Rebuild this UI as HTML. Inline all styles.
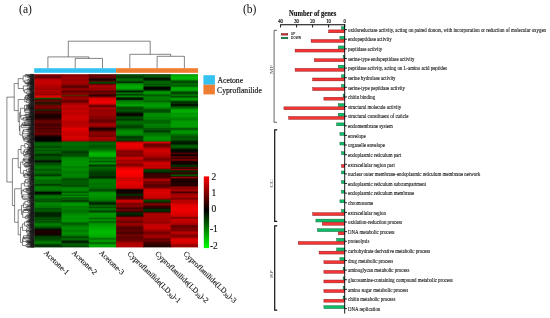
<!DOCTYPE html>
<html><head><meta charset="utf-8"><title>Figure</title>
<style>html,body{margin:0;padding:0;background:#fff}svg{display:block}</style>
</head><body>
<svg width="550" height="318" viewBox="0 0 550 318" font-family="'Liberation Serif', serif">
<defs><linearGradient id="g1" x1="0" y1="0" x2="0" y2="1"><stop offset="0.0017" stop-color="#8a0000"/><stop offset="0.0104" stop-color="#700000"/><stop offset="0.0191" stop-color="#600000"/><stop offset="0.0277" stop-color="#b00000"/><stop offset="0.0364" stop-color="#c00000"/><stop offset="0.0479" stop-color="#c80000"/><stop offset="0.0566" stop-color="#c00000"/><stop offset="0.0681" stop-color="#b00000"/><stop offset="0.0797" stop-color="#a80000"/><stop offset="0.0889" stop-color="#a00000"/><stop offset="0.0970" stop-color="#b80000"/><stop offset="0.1062" stop-color="#a00000"/><stop offset="0.1120" stop-color="#b00000"/><stop offset="0.1178" stop-color="#900000"/><stop offset="0.1253" stop-color="#e00000"/><stop offset="0.1322" stop-color="#f00000"/><stop offset="0.1380" stop-color="#205000"/><stop offset="0.1426" stop-color="#004800"/><stop offset="0.1484" stop-color="#500000"/><stop offset="0.1553" stop-color="#800000"/><stop offset="0.1611" stop-color="#202000"/><stop offset="0.1669" stop-color="#300000"/><stop offset="0.1721" stop-color="#302000"/><stop offset="0.1790" stop-color="#600000"/><stop offset="0.1894" stop-color="#800000"/><stop offset="0.1998" stop-color="#600000"/><stop offset="0.2079" stop-color="#103000"/><stop offset="0.2136" stop-color="#400000"/><stop offset="0.2211" stop-color="#500000"/><stop offset="0.2298" stop-color="#280000"/><stop offset="0.2413" stop-color="#180000"/><stop offset="0.2529" stop-color="#200000"/><stop offset="0.2644" stop-color="#500000"/><stop offset="0.2737" stop-color="#700000"/><stop offset="0.2823" stop-color="#600000"/><stop offset="0.2910" stop-color="#400000"/><stop offset="0.2997" stop-color="#500000"/><stop offset="0.3083" stop-color="#600000"/><stop offset="0.3170" stop-color="#400000"/><stop offset="0.3239" stop-color="#700000"/><stop offset="0.3314" stop-color="#500000"/><stop offset="0.3401" stop-color="#700000"/><stop offset="0.3493" stop-color="#600000"/><stop offset="0.3528" stop-color="#400000"/><stop offset="0.3580" stop-color="#200000"/><stop offset="0.3655" stop-color="#080000"/><stop offset="0.3770" stop-color="#050000"/><stop offset="0.3857" stop-color="#040400"/><stop offset="0.3903" stop-color="#003000"/><stop offset="0.3961" stop-color="#006000"/><stop offset="0.4059" stop-color="#006800"/><stop offset="0.4145" stop-color="#005800"/><stop offset="0.4203" stop-color="#004000"/><stop offset="0.4261" stop-color="#006000"/><stop offset="0.4353" stop-color="#006800"/><stop offset="0.4411" stop-color="#004800"/><stop offset="0.4469" stop-color="#006800"/><stop offset="0.4555" stop-color="#006000"/><stop offset="0.4625" stop-color="#003800"/><stop offset="0.4682" stop-color="#002800"/><stop offset="0.4740" stop-color="#005800"/><stop offset="0.4815" stop-color="#005000"/><stop offset="0.4890" stop-color="#005800"/><stop offset="0.4960" stop-color="#004000"/><stop offset="0.5006" stop-color="#001000"/><stop offset="0.5052" stop-color="#000800"/><stop offset="0.5104" stop-color="#004000"/><stop offset="0.5191" stop-color="#005000"/><stop offset="0.5266" stop-color="#006000"/><stop offset="0.5312" stop-color="#007000"/><stop offset="0.5387" stop-color="#007800"/><stop offset="0.5473" stop-color="#006800"/><stop offset="0.5543" stop-color="#005000"/><stop offset="0.5618" stop-color="#007000"/><stop offset="0.5704" stop-color="#006800"/><stop offset="0.5774" stop-color="#005000"/><stop offset="0.5831" stop-color="#003000"/><stop offset="0.5889" stop-color="#006000"/><stop offset="0.5970" stop-color="#008800"/><stop offset="0.6057" stop-color="#008000"/><stop offset="0.6143" stop-color="#006000"/><stop offset="0.6230" stop-color="#007000"/><stop offset="0.6316" stop-color="#006000"/><stop offset="0.6391" stop-color="#003000"/><stop offset="0.6449" stop-color="#006000"/><stop offset="0.6518" stop-color="#008000"/><stop offset="0.6605" stop-color="#007800"/><stop offset="0.6692" stop-color="#008000"/><stop offset="0.6761" stop-color="#005000"/><stop offset="0.6819" stop-color="#001000"/><stop offset="0.6876" stop-color="#000800"/><stop offset="0.6934" stop-color="#003000"/><stop offset="0.7009" stop-color="#006800"/><stop offset="0.7067" stop-color="#007800"/><stop offset="0.7102" stop-color="#007800"/><stop offset="0.7159" stop-color="#007000"/><stop offset="0.7217" stop-color="#005000"/><stop offset="0.7275" stop-color="#006000"/><stop offset="0.7333" stop-color="#004000"/><stop offset="0.7390" stop-color="#007000"/><stop offset="0.7465" stop-color="#008800"/><stop offset="0.7552" stop-color="#008000"/><stop offset="0.7644" stop-color="#007800"/><stop offset="0.7719" stop-color="#007000"/><stop offset="0.7777" stop-color="#004000"/><stop offset="0.7835" stop-color="#006000"/><stop offset="0.7904" stop-color="#005800"/><stop offset="0.7973" stop-color="#003800"/><stop offset="0.8031" stop-color="#002000"/><stop offset="0.8106" stop-color="#002800"/><stop offset="0.8181" stop-color="#002000"/><stop offset="0.8251" stop-color="#003800"/><stop offset="0.8320" stop-color="#005800"/><stop offset="0.8395" stop-color="#004000"/><stop offset="0.8453" stop-color="#006000"/><stop offset="0.8510" stop-color="#005000"/><stop offset="0.8545" stop-color="#005000"/><stop offset="0.8603" stop-color="#007000"/><stop offset="0.8678" stop-color="#008000"/><stop offset="0.8753" stop-color="#007000"/><stop offset="0.8822" stop-color="#006000"/><stop offset="0.8880" stop-color="#003800"/><stop offset="0.8949" stop-color="#001800"/><stop offset="0.9024" stop-color="#180000"/><stop offset="0.9111" stop-color="#200000"/><stop offset="0.9203" stop-color="#180000"/><stop offset="0.9278" stop-color="#100800"/><stop offset="0.9336" stop-color="#002800"/><stop offset="0.9405" stop-color="#004800"/><stop offset="0.9475" stop-color="#004000"/><stop offset="0.9550" stop-color="#005000"/><stop offset="0.9625" stop-color="#006000"/><stop offset="0.9694" stop-color="#008000"/><stop offset="0.9763" stop-color="#007800"/><stop offset="0.9821" stop-color="#004800"/><stop offset="0.9879" stop-color="#003000"/><stop offset="0.9936" stop-color="#003800"/><stop offset="0.9994" stop-color="#002800"/></linearGradient><linearGradient id="g2" x1="0" y1="0" x2="0" y2="1"><stop offset="0.0017" stop-color="#900000"/><stop offset="0.0104" stop-color="#800000"/><stop offset="0.0191" stop-color="#a00000"/><stop offset="0.0277" stop-color="#980000"/><stop offset="0.0393" stop-color="#a00000"/><stop offset="0.0508" stop-color="#a00000"/><stop offset="0.0600" stop-color="#900000"/><stop offset="0.0676" stop-color="#600000"/><stop offset="0.0745" stop-color="#500000"/><stop offset="0.0803" stop-color="#800000"/><stop offset="0.0872" stop-color="#a00000"/><stop offset="0.0947" stop-color="#700000"/><stop offset="0.1033" stop-color="#600000"/><stop offset="0.1120" stop-color="#900000"/><stop offset="0.1178" stop-color="#800000"/><stop offset="0.1236" stop-color="#4a3000"/><stop offset="0.1293" stop-color="#800000"/><stop offset="0.1380" stop-color="#a00000"/><stop offset="0.1449" stop-color="#900000"/><stop offset="0.1524" stop-color="#700000"/><stop offset="0.1611" stop-color="#600000"/><stop offset="0.1669" stop-color="#a00000"/><stop offset="0.1732" stop-color="#a80000"/><stop offset="0.1807" stop-color="#c00000"/><stop offset="0.1894" stop-color="#c80000"/><stop offset="0.1980" stop-color="#b80000"/><stop offset="0.2067" stop-color="#c00000"/><stop offset="0.2182" stop-color="#c80000"/><stop offset="0.2269" stop-color="#b80000"/><stop offset="0.2361" stop-color="#c80000"/><stop offset="0.2477" stop-color="#d00000"/><stop offset="0.2592" stop-color="#d00000"/><stop offset="0.2708" stop-color="#c00000"/><stop offset="0.2794" stop-color="#b00000"/><stop offset="0.2881" stop-color="#c00000"/><stop offset="0.2968" stop-color="#b80000"/><stop offset="0.3054" stop-color="#c80000"/><stop offset="0.3141" stop-color="#e80000"/><stop offset="0.3227" stop-color="#e00000"/><stop offset="0.3314" stop-color="#d00000"/><stop offset="0.3401" stop-color="#c80000"/><stop offset="0.3493" stop-color="#d00000"/><stop offset="0.3539" stop-color="#c80000"/><stop offset="0.3597" stop-color="#d80000"/><stop offset="0.3684" stop-color="#d00000"/><stop offset="0.3770" stop-color="#c80000"/><stop offset="0.3845" stop-color="#b00000"/><stop offset="0.3891" stop-color="#404000"/><stop offset="0.3943" stop-color="#006800"/><stop offset="0.4030" stop-color="#007000"/><stop offset="0.4145" stop-color="#006800"/><stop offset="0.4261" stop-color="#006000"/><stop offset="0.4353" stop-color="#006800"/><stop offset="0.4428" stop-color="#005000"/><stop offset="0.4498" stop-color="#003800"/><stop offset="0.4567" stop-color="#004000"/><stop offset="0.4642" stop-color="#005800"/><stop offset="0.4717" stop-color="#004800"/><stop offset="0.4786" stop-color="#007800"/><stop offset="0.4873" stop-color="#009000"/><stop offset="0.4960" stop-color="#008800"/><stop offset="0.5029" stop-color="#009800"/><stop offset="0.5104" stop-color="#009000"/><stop offset="0.5191" stop-color="#009800"/><stop offset="0.5266" stop-color="#009000"/><stop offset="0.5312" stop-color="#008800"/><stop offset="0.5387" stop-color="#008000"/><stop offset="0.5473" stop-color="#009000"/><stop offset="0.5560" stop-color="#008800"/><stop offset="0.5647" stop-color="#007800"/><stop offset="0.5733" stop-color="#008000"/><stop offset="0.5820" stop-color="#008800"/><stop offset="0.5912" stop-color="#008000"/><stop offset="0.5999" stop-color="#007000"/><stop offset="0.6057" stop-color="#004800"/><stop offset="0.6114" stop-color="#005000"/><stop offset="0.6201" stop-color="#006000"/><stop offset="0.6288" stop-color="#005800"/><stop offset="0.6374" stop-color="#006000"/><stop offset="0.6438" stop-color="#004000"/><stop offset="0.6490" stop-color="#006000"/><stop offset="0.6565" stop-color="#008000"/><stop offset="0.6663" stop-color="#008800"/><stop offset="0.6749" stop-color="#007800"/><stop offset="0.6819" stop-color="#005000"/><stop offset="0.6865" stop-color="#008000"/><stop offset="0.6923" stop-color="#009000"/><stop offset="0.6980" stop-color="#005000"/><stop offset="0.7027" stop-color="#008800"/><stop offset="0.7067" stop-color="#009000"/><stop offset="0.7102" stop-color="#007000"/><stop offset="0.7148" stop-color="#005000"/><stop offset="0.7206" stop-color="#006800"/><stop offset="0.7263" stop-color="#005800"/><stop offset="0.7321" stop-color="#002800"/><stop offset="0.7379" stop-color="#006000"/><stop offset="0.7436" stop-color="#009000"/><stop offset="0.7523" stop-color="#009800"/><stop offset="0.7610" stop-color="#009000"/><stop offset="0.7667" stop-color="#007000"/><stop offset="0.7731" stop-color="#008800"/><stop offset="0.7818" stop-color="#007800"/><stop offset="0.7904" stop-color="#007000"/><stop offset="0.7991" stop-color="#007800"/><stop offset="0.8077" stop-color="#008800"/><stop offset="0.8164" stop-color="#009000"/><stop offset="0.8251" stop-color="#009800"/><stop offset="0.8337" stop-color="#009000"/><stop offset="0.8424" stop-color="#009800"/><stop offset="0.8510" stop-color="#009000"/><stop offset="0.8545" stop-color="#008000"/><stop offset="0.8591" stop-color="#006000"/><stop offset="0.8649" stop-color="#005800"/><stop offset="0.8718" stop-color="#007000"/><stop offset="0.8793" stop-color="#008000"/><stop offset="0.8880" stop-color="#009000"/><stop offset="0.8967" stop-color="#008800"/><stop offset="0.9042" stop-color="#007800"/><stop offset="0.9111" stop-color="#008800"/><stop offset="0.9203" stop-color="#009000"/><stop offset="0.9290" stop-color="#008000"/><stop offset="0.9359" stop-color="#006000"/><stop offset="0.9417" stop-color="#004000"/><stop offset="0.9475" stop-color="#006800"/><stop offset="0.9532" stop-color="#007000"/><stop offset="0.9590" stop-color="#004800"/><stop offset="0.9648" stop-color="#002000"/><stop offset="0.9706" stop-color="#001800"/><stop offset="0.9763" stop-color="#005000"/><stop offset="0.9838" stop-color="#006000"/><stop offset="0.9913" stop-color="#005000"/><stop offset="0.9994" stop-color="#004000"/></linearGradient><linearGradient id="g3" x1="0" y1="0" x2="0" y2="1"><stop offset="0.0017" stop-color="#500000"/><stop offset="0.0104" stop-color="#700000"/><stop offset="0.0191" stop-color="#600000"/><stop offset="0.0266" stop-color="#300000"/><stop offset="0.0323" stop-color="#180000"/><stop offset="0.0393" stop-color="#500000"/><stop offset="0.0462" stop-color="#005000"/><stop offset="0.0525" stop-color="#003800"/><stop offset="0.0566" stop-color="#600000"/><stop offset="0.0658" stop-color="#a00000"/><stop offset="0.0745" stop-color="#b00000"/><stop offset="0.0814" stop-color="#900000"/><stop offset="0.0889" stop-color="#a00000"/><stop offset="0.0964" stop-color="#700000"/><stop offset="0.1022" stop-color="#500000"/><stop offset="0.1080" stop-color="#800000"/><stop offset="0.1137" stop-color="#600000"/><stop offset="0.1195" stop-color="#400000"/><stop offset="0.1253" stop-color="#300000"/><stop offset="0.1311" stop-color="#800000"/><stop offset="0.1380" stop-color="#d00000"/><stop offset="0.1467" stop-color="#e00000"/><stop offset="0.1582" stop-color="#f00000"/><stop offset="0.1674" stop-color="#e80000"/><stop offset="0.1738" stop-color="#c00000"/><stop offset="0.1790" stop-color="#800000"/><stop offset="0.1848" stop-color="#500000"/><stop offset="0.1923" stop-color="#a00000"/><stop offset="0.2009" stop-color="#a80000"/><stop offset="0.2096" stop-color="#900000"/><stop offset="0.2182" stop-color="#a00000"/><stop offset="0.2269" stop-color="#980000"/><stop offset="0.2361" stop-color="#a00000"/><stop offset="0.2448" stop-color="#800000"/><stop offset="0.2535" stop-color="#900000"/><stop offset="0.2621" stop-color="#700000"/><stop offset="0.2708" stop-color="#600000"/><stop offset="0.2794" stop-color="#800000"/><stop offset="0.2881" stop-color="#a80000"/><stop offset="0.2968" stop-color="#a00000"/><stop offset="0.3043" stop-color="#800000"/><stop offset="0.3112" stop-color="#300000"/><stop offset="0.3170" stop-color="#100000"/><stop offset="0.3239" stop-color="#400000"/><stop offset="0.3314" stop-color="#700000"/><stop offset="0.3401" stop-color="#900000"/><stop offset="0.3493" stop-color="#800000"/><stop offset="0.3539" stop-color="#800000"/><stop offset="0.3580" stop-color="#700000"/><stop offset="0.3655" stop-color="#a00000"/><stop offset="0.3741" stop-color="#b00000"/><stop offset="0.3811" stop-color="#900000"/><stop offset="0.3868" stop-color="#602000"/><stop offset="0.3915" stop-color="#005000"/><stop offset="0.4001" stop-color="#006800"/><stop offset="0.4088" stop-color="#006000"/><stop offset="0.4180" stop-color="#005000"/><stop offset="0.4267" stop-color="#006000"/><stop offset="0.4353" stop-color="#007000"/><stop offset="0.4440" stop-color="#008800"/><stop offset="0.4527" stop-color="#00a800"/><stop offset="0.4613" stop-color="#00b800"/><stop offset="0.4700" stop-color="#00b000"/><stop offset="0.4775" stop-color="#00a000"/><stop offset="0.4844" stop-color="#006000"/><stop offset="0.4902" stop-color="#007800"/><stop offset="0.4960" stop-color="#009000"/><stop offset="0.5029" stop-color="#005000"/><stop offset="0.5087" stop-color="#008000"/><stop offset="0.5162" stop-color="#009000"/><stop offset="0.5237" stop-color="#005000"/><stop offset="0.5283" stop-color="#003800"/><stop offset="0.5318" stop-color="#004800"/><stop offset="0.5387" stop-color="#006800"/><stop offset="0.5473" stop-color="#006000"/><stop offset="0.5560" stop-color="#005000"/><stop offset="0.5647" stop-color="#004000"/><stop offset="0.5733" stop-color="#003800"/><stop offset="0.5820" stop-color="#004000"/><stop offset="0.5889" stop-color="#003000"/><stop offset="0.5953" stop-color="#001800"/><stop offset="0.6010" stop-color="#004000"/><stop offset="0.6085" stop-color="#007800"/><stop offset="0.6172" stop-color="#008000"/><stop offset="0.6259" stop-color="#007800"/><stop offset="0.6345" stop-color="#007000"/><stop offset="0.6432" stop-color="#007800"/><stop offset="0.6518" stop-color="#007000"/><stop offset="0.6605" stop-color="#006800"/><stop offset="0.6680" stop-color="#005000"/><stop offset="0.6738" stop-color="#004000"/><stop offset="0.6796" stop-color="#008000"/><stop offset="0.6865" stop-color="#009800"/><stop offset="0.6952" stop-color="#009800"/><stop offset="0.7044" stop-color="#009000"/><stop offset="0.7102" stop-color="#009000"/><stop offset="0.7177" stop-color="#008800"/><stop offset="0.7263" stop-color="#008000"/><stop offset="0.7333" stop-color="#006000"/><stop offset="0.7390" stop-color="#004000"/><stop offset="0.7448" stop-color="#002000"/><stop offset="0.7506" stop-color="#002800"/><stop offset="0.7564" stop-color="#006000"/><stop offset="0.7621" stop-color="#007000"/><stop offset="0.7685" stop-color="#004800"/><stop offset="0.7742" stop-color="#007000"/><stop offset="0.7800" stop-color="#008000"/><stop offset="0.7858" stop-color="#006000"/><stop offset="0.7916" stop-color="#003800"/><stop offset="0.7973" stop-color="#006000"/><stop offset="0.8031" stop-color="#009000"/><stop offset="0.8106" stop-color="#009800"/><stop offset="0.8193" stop-color="#009000"/><stop offset="0.8279" stop-color="#008800"/><stop offset="0.8337" stop-color="#006000"/><stop offset="0.8395" stop-color="#008800"/><stop offset="0.8453" stop-color="#009000"/><stop offset="0.8510" stop-color="#006800"/><stop offset="0.8551" stop-color="#006800"/><stop offset="0.8603" stop-color="#008800"/><stop offset="0.8678" stop-color="#009800"/><stop offset="0.8764" stop-color="#00a000"/><stop offset="0.8851" stop-color="#00a800"/><stop offset="0.8938" stop-color="#00b000"/><stop offset="0.9053" stop-color="#00b800"/><stop offset="0.9174" stop-color="#00b800"/><stop offset="0.9290" stop-color="#00b000"/><stop offset="0.9376" stop-color="#00a800"/><stop offset="0.9452" stop-color="#009000"/><stop offset="0.9509" stop-color="#006000"/><stop offset="0.9567" stop-color="#009000"/><stop offset="0.9636" stop-color="#00a000"/><stop offset="0.9694" stop-color="#008000"/><stop offset="0.9752" stop-color="#005000"/><stop offset="0.9809" stop-color="#009000"/><stop offset="0.9896" stop-color="#00a800"/><stop offset="0.9994" stop-color="#00a000"/></linearGradient><linearGradient id="g4" x1="0" y1="0" x2="0" y2="1"><stop offset="0.0017" stop-color="#004000"/><stop offset="0.0092" stop-color="#005000"/><stop offset="0.0162" stop-color="#003000"/><stop offset="0.0219" stop-color="#004800"/><stop offset="0.0289" stop-color="#007000"/><stop offset="0.0364" stop-color="#006000"/><stop offset="0.0421" stop-color="#004000"/><stop offset="0.0479" stop-color="#003000"/><stop offset="0.0543" stop-color="#008000"/><stop offset="0.0629" stop-color="#00a000"/><stop offset="0.0745" stop-color="#00b000"/><stop offset="0.0831" stop-color="#00a000"/><stop offset="0.0906" stop-color="#008000"/><stop offset="0.0964" stop-color="#003000"/><stop offset="0.1010" stop-color="#001800"/><stop offset="0.1068" stop-color="#006000"/><stop offset="0.1137" stop-color="#008000"/><stop offset="0.1184" stop-color="#003000"/><stop offset="0.1230" stop-color="#006000"/><stop offset="0.1293" stop-color="#008800"/><stop offset="0.1351" stop-color="#003800"/><stop offset="0.1409" stop-color="#001000"/><stop offset="0.1467" stop-color="#002000"/><stop offset="0.1524" stop-color="#007000"/><stop offset="0.1611" stop-color="#008800"/><stop offset="0.1703" stop-color="#009000"/><stop offset="0.1749" stop-color="#00a000"/><stop offset="0.1790" stop-color="#00b000"/><stop offset="0.1848" stop-color="#008000"/><stop offset="0.1923" stop-color="#005000"/><stop offset="0.2009" stop-color="#004800"/><stop offset="0.2096" stop-color="#005800"/><stop offset="0.2171" stop-color="#004000"/><stop offset="0.2240" stop-color="#002000"/><stop offset="0.2298" stop-color="#100000"/><stop offset="0.2361" stop-color="#080000"/><stop offset="0.2419" stop-color="#002800"/><stop offset="0.2488" stop-color="#005000"/><stop offset="0.2564" stop-color="#004000"/><stop offset="0.2639" stop-color="#003800"/><stop offset="0.2708" stop-color="#006000"/><stop offset="0.2794" stop-color="#007000"/><stop offset="0.2881" stop-color="#006000"/><stop offset="0.2968" stop-color="#005000"/><stop offset="0.3043" stop-color="#003800"/><stop offset="0.3112" stop-color="#005000"/><stop offset="0.3199" stop-color="#007800"/><stop offset="0.3285" stop-color="#008800"/><stop offset="0.3372" stop-color="#009000"/><stop offset="0.3464" stop-color="#008800"/><stop offset="0.3522" stop-color="#008000"/><stop offset="0.3580" stop-color="#004800"/><stop offset="0.3655" stop-color="#003800"/><stop offset="0.3741" stop-color="#005000"/><stop offset="0.3811" stop-color="#004000"/><stop offset="0.3868" stop-color="#302000"/><stop offset="0.3926" stop-color="#c00000"/><stop offset="0.4001" stop-color="#e80000"/><stop offset="0.4088" stop-color="#f00000"/><stop offset="0.4180" stop-color="#e00000"/><stop offset="0.4255" stop-color="#e80000"/><stop offset="0.4324" stop-color="#d00000"/><stop offset="0.4394" stop-color="#a00000"/><stop offset="0.4469" stop-color="#800000"/><stop offset="0.4555" stop-color="#900000"/><stop offset="0.4642" stop-color="#800000"/><stop offset="0.4729" stop-color="#880000"/><stop offset="0.4798" stop-color="#c00000"/><stop offset="0.4873" stop-color="#d00000"/><stop offset="0.4948" stop-color="#b00000"/><stop offset="0.5017" stop-color="#900000"/><stop offset="0.5075" stop-color="#c00000"/><stop offset="0.5144" stop-color="#a00000"/><stop offset="0.5219" stop-color="#800000"/><stop offset="0.5277" stop-color="#900000"/><stop offset="0.5312" stop-color="#a00000"/><stop offset="0.5358" stop-color="#c00000"/><stop offset="0.5427" stop-color="#e00000"/><stop offset="0.5531" stop-color="#f80000"/><stop offset="0.5647" stop-color="#ff0000"/><stop offset="0.5762" stop-color="#f80000"/><stop offset="0.5878" stop-color="#f00000"/><stop offset="0.5970" stop-color="#e00000"/><stop offset="0.6028" stop-color="#c00000"/><stop offset="0.6085" stop-color="#e00000"/><stop offset="0.6143" stop-color="#c80000"/><stop offset="0.6201" stop-color="#e00000"/><stop offset="0.6288" stop-color="#e80000"/><stop offset="0.6374" stop-color="#e00000"/><stop offset="0.6461" stop-color="#d80000"/><stop offset="0.6547" stop-color="#d00000"/><stop offset="0.6605" stop-color="#a00000"/><stop offset="0.6651" stop-color="#400000"/><stop offset="0.6703" stop-color="#100000"/><stop offset="0.6778" stop-color="#080800"/><stop offset="0.6853" stop-color="#200000"/><stop offset="0.6923" stop-color="#002000"/><stop offset="0.6992" stop-color="#003000"/><stop offset="0.7061" stop-color="#300000"/><stop offset="0.7102" stop-color="#400000"/><stop offset="0.7159" stop-color="#300000"/><stop offset="0.7217" stop-color="#600000"/><stop offset="0.7275" stop-color="#c00000"/><stop offset="0.7350" stop-color="#d00000"/><stop offset="0.7425" stop-color="#a00000"/><stop offset="0.7494" stop-color="#700000"/><stop offset="0.7564" stop-color="#900000"/><stop offset="0.7644" stop-color="#800000"/><stop offset="0.7702" stop-color="#600000"/><stop offset="0.7760" stop-color="#400000"/><stop offset="0.7818" stop-color="#700000"/><stop offset="0.7875" stop-color="#600000"/><stop offset="0.7933" stop-color="#400000"/><stop offset="0.7991" stop-color="#102000"/><stop offset="0.8066" stop-color="#002800"/><stop offset="0.8135" stop-color="#002000"/><stop offset="0.8193" stop-color="#200000"/><stop offset="0.8251" stop-color="#800000"/><stop offset="0.8320" stop-color="#a00000"/><stop offset="0.8395" stop-color="#900000"/><stop offset="0.8470" stop-color="#800000"/><stop offset="0.8516" stop-color="#680000"/><stop offset="0.8551" stop-color="#700000"/><stop offset="0.8603" stop-color="#900000"/><stop offset="0.8678" stop-color="#980000"/><stop offset="0.8753" stop-color="#800000"/><stop offset="0.8822" stop-color="#600000"/><stop offset="0.8891" stop-color="#500000"/><stop offset="0.8967" stop-color="#580000"/><stop offset="0.9042" stop-color="#680000"/><stop offset="0.9111" stop-color="#500000"/><stop offset="0.9186" stop-color="#480000"/><stop offset="0.9261" stop-color="#600000"/><stop offset="0.9319" stop-color="#800000"/><stop offset="0.9376" stop-color="#600000"/><stop offset="0.9434" stop-color="#580000"/><stop offset="0.9509" stop-color="#700000"/><stop offset="0.9579" stop-color="#600000"/><stop offset="0.9648" stop-color="#800000"/><stop offset="0.9723" stop-color="#a00000"/><stop offset="0.9809" stop-color="#b00000"/><stop offset="0.9896" stop-color="#b80000"/><stop offset="0.9994" stop-color="#a80000"/></linearGradient><linearGradient id="g5" x1="0" y1="0" x2="0" y2="1"><stop offset="0.0017" stop-color="#003000"/><stop offset="0.0092" stop-color="#006000"/><stop offset="0.0162" stop-color="#005000"/><stop offset="0.0231" stop-color="#002000"/><stop offset="0.0289" stop-color="#001000"/><stop offset="0.0346" stop-color="#003000"/><stop offset="0.0421" stop-color="#006000"/><stop offset="0.0508" stop-color="#006800"/><stop offset="0.0600" stop-color="#005000"/><stop offset="0.0658" stop-color="#006800"/><stop offset="0.0716" stop-color="#003000"/><stop offset="0.0774" stop-color="#000800"/><stop offset="0.0860" stop-color="#000800"/><stop offset="0.0918" stop-color="#002000"/><stop offset="0.0976" stop-color="#008000"/><stop offset="0.1062" stop-color="#009800"/><stop offset="0.1149" stop-color="#008800"/><stop offset="0.1207" stop-color="#005000"/><stop offset="0.1276" stop-color="#007000"/><stop offset="0.1380" stop-color="#008000"/><stop offset="0.1495" stop-color="#007800"/><stop offset="0.1582" stop-color="#006000"/><stop offset="0.1640" stop-color="#008800"/><stop offset="0.1721" stop-color="#009800"/><stop offset="0.1807" stop-color="#00a000"/><stop offset="0.1894" stop-color="#009000"/><stop offset="0.1980" stop-color="#007800"/><stop offset="0.2055" stop-color="#005000"/><stop offset="0.2136" stop-color="#004800"/><stop offset="0.2211" stop-color="#006000"/><stop offset="0.2269" stop-color="#008800"/><stop offset="0.2361" stop-color="#009000"/><stop offset="0.2477" stop-color="#008800"/><stop offset="0.2592" stop-color="#008000"/><stop offset="0.2679" stop-color="#006800"/><stop offset="0.2766" stop-color="#006000"/><stop offset="0.2852" stop-color="#007000"/><stop offset="0.2939" stop-color="#008800"/><stop offset="0.3008" stop-color="#007000"/><stop offset="0.3066" stop-color="#008000"/><stop offset="0.3141" stop-color="#005000"/><stop offset="0.3199" stop-color="#006000"/><stop offset="0.3256" stop-color="#004000"/><stop offset="0.3314" stop-color="#003800"/><stop offset="0.3389" stop-color="#006800"/><stop offset="0.3464" stop-color="#007800"/><stop offset="0.3522" stop-color="#007800"/><stop offset="0.3597" stop-color="#008800"/><stop offset="0.3684" stop-color="#009800"/><stop offset="0.3770" stop-color="#009000"/><stop offset="0.3845" stop-color="#008000"/><stop offset="0.3891" stop-color="#604000"/><stop offset="0.3938" stop-color="#e00000"/><stop offset="0.3995" stop-color="#a00000"/><stop offset="0.4059" stop-color="#700000"/><stop offset="0.4140" stop-color="#600000"/><stop offset="0.4209" stop-color="#900000"/><stop offset="0.4278" stop-color="#b00000"/><stop offset="0.4353" stop-color="#c80000"/><stop offset="0.4440" stop-color="#d00000"/><stop offset="0.4527" stop-color="#c80000"/><stop offset="0.4613" stop-color="#c00000"/><stop offset="0.4700" stop-color="#b00000"/><stop offset="0.4786" stop-color="#a00000"/><stop offset="0.4873" stop-color="#800000"/><stop offset="0.4948" stop-color="#700000"/><stop offset="0.5006" stop-color="#900000"/><stop offset="0.5075" stop-color="#c00000"/><stop offset="0.5162" stop-color="#d00000"/><stop offset="0.5254" stop-color="#c80000"/><stop offset="0.5312" stop-color="#c00000"/><stop offset="0.5387" stop-color="#c80000"/><stop offset="0.5445" stop-color="#a00000"/><stop offset="0.5491" stop-color="#303000"/><stop offset="0.5543" stop-color="#004000"/><stop offset="0.5618" stop-color="#003800"/><stop offset="0.5676" stop-color="#002000"/><stop offset="0.5733" stop-color="#300000"/><stop offset="0.5820" stop-color="#400000"/><stop offset="0.5912" stop-color="#380000"/><stop offset="0.5987" stop-color="#500000"/><stop offset="0.6045" stop-color="#900000"/><stop offset="0.6103" stop-color="#b80000"/><stop offset="0.6161" stop-color="#a00000"/><stop offset="0.6218" stop-color="#600000"/><stop offset="0.6276" stop-color="#800000"/><stop offset="0.6334" stop-color="#700000"/><stop offset="0.6403" stop-color="#500000"/><stop offset="0.6490" stop-color="#600000"/><stop offset="0.6565" stop-color="#700000"/><stop offset="0.6622" stop-color="#c00000"/><stop offset="0.6692" stop-color="#d80000"/><stop offset="0.6778" stop-color="#d00000"/><stop offset="0.6865" stop-color="#e00000"/><stop offset="0.6952" stop-color="#d00000"/><stop offset="0.7044" stop-color="#c80000"/><stop offset="0.7102" stop-color="#c80000"/><stop offset="0.7159" stop-color="#c00000"/><stop offset="0.7217" stop-color="#800000"/><stop offset="0.7263" stop-color="#204000"/><stop offset="0.7333" stop-color="#004000"/><stop offset="0.7390" stop-color="#003000"/><stop offset="0.7436" stop-color="#500000"/><stop offset="0.7494" stop-color="#900000"/><stop offset="0.7552" stop-color="#700000"/><stop offset="0.7610" stop-color="#400000"/><stop offset="0.7685" stop-color="#300000"/><stop offset="0.7742" stop-color="#200000"/><stop offset="0.7800" stop-color="#003000"/><stop offset="0.7875" stop-color="#003000"/><stop offset="0.7933" stop-color="#002000"/><stop offset="0.7979" stop-color="#600000"/><stop offset="0.8048" stop-color="#a00000"/><stop offset="0.8135" stop-color="#a80000"/><stop offset="0.8222" stop-color="#b00000"/><stop offset="0.8308" stop-color="#a80000"/><stop offset="0.8395" stop-color="#a00000"/><stop offset="0.8482" stop-color="#b00000"/><stop offset="0.8545" stop-color="#900000"/><stop offset="0.8603" stop-color="#a00000"/><stop offset="0.8678" stop-color="#c00000"/><stop offset="0.8764" stop-color="#c80000"/><stop offset="0.8851" stop-color="#c80000"/><stop offset="0.8938" stop-color="#c00000"/><stop offset="0.9024" stop-color="#a00000"/><stop offset="0.9111" stop-color="#800000"/><stop offset="0.9186" stop-color="#700000"/><stop offset="0.9261" stop-color="#900000"/><stop offset="0.9336" stop-color="#a80000"/><stop offset="0.9405" stop-color="#a00000"/><stop offset="0.9475" stop-color="#800000"/><stop offset="0.9550" stop-color="#600000"/><stop offset="0.9625" stop-color="#700000"/><stop offset="0.9694" stop-color="#500000"/><stop offset="0.9763" stop-color="#400000"/><stop offset="0.9838" stop-color="#300000"/><stop offset="0.9913" stop-color="#200000"/><stop offset="0.9994" stop-color="#280000"/></linearGradient><linearGradient id="g6" x1="0" y1="0" x2="0" y2="1"><stop offset="0.0017" stop-color="#009000"/><stop offset="0.0104" stop-color="#00b000"/><stop offset="0.0219" stop-color="#00b800"/><stop offset="0.0306" stop-color="#00a800"/><stop offset="0.0381" stop-color="#006000"/><stop offset="0.0450" stop-color="#004000"/><stop offset="0.0525" stop-color="#006000"/><stop offset="0.0583" stop-color="#007800"/><stop offset="0.0641" stop-color="#005000"/><stop offset="0.0699" stop-color="#007000"/><stop offset="0.0774" stop-color="#00a000"/><stop offset="0.0860" stop-color="#00b000"/><stop offset="0.0947" stop-color="#00a000"/><stop offset="0.1022" stop-color="#005000"/><stop offset="0.1091" stop-color="#003800"/><stop offset="0.1149" stop-color="#006000"/><stop offset="0.1218" stop-color="#008000"/><stop offset="0.1276" stop-color="#004800"/><stop offset="0.1334" stop-color="#006800"/><stop offset="0.1409" stop-color="#009800"/><stop offset="0.1484" stop-color="#00a000"/><stop offset="0.1553" stop-color="#005000"/><stop offset="0.1622" stop-color="#002800"/><stop offset="0.1703" stop-color="#003800"/><stop offset="0.1755" stop-color="#001000"/><stop offset="0.1790" stop-color="#000800"/><stop offset="0.1836" stop-color="#002800"/><stop offset="0.1894" stop-color="#006000"/><stop offset="0.1963" stop-color="#006800"/><stop offset="0.2038" stop-color="#00a000"/><stop offset="0.2125" stop-color="#00b000"/><stop offset="0.2211" stop-color="#00a800"/><stop offset="0.2286" stop-color="#009000"/><stop offset="0.2361" stop-color="#00a000"/><stop offset="0.2448" stop-color="#009800"/><stop offset="0.2535" stop-color="#008800"/><stop offset="0.2621" stop-color="#008000"/><stop offset="0.2708" stop-color="#009800"/><stop offset="0.2794" stop-color="#00a000"/><stop offset="0.2881" stop-color="#009800"/><stop offset="0.2968" stop-color="#00a000"/><stop offset="0.3054" stop-color="#009800"/><stop offset="0.3124" stop-color="#006000"/><stop offset="0.3181" stop-color="#005000"/><stop offset="0.3239" stop-color="#008000"/><stop offset="0.3314" stop-color="#009800"/><stop offset="0.3401" stop-color="#009000"/><stop offset="0.3493" stop-color="#007000"/><stop offset="0.3533" stop-color="#006800"/><stop offset="0.3580" stop-color="#006000"/><stop offset="0.3637" stop-color="#004800"/><stop offset="0.3695" stop-color="#006000"/><stop offset="0.3770" stop-color="#005800"/><stop offset="0.3845" stop-color="#003800"/><stop offset="0.3903" stop-color="#002000"/><stop offset="0.3972" stop-color="#001000"/><stop offset="0.4042" stop-color="#002800"/><stop offset="0.4122" stop-color="#005800"/><stop offset="0.4197" stop-color="#006000"/><stop offset="0.4267" stop-color="#004800"/><stop offset="0.4324" stop-color="#001800"/><stop offset="0.4394" stop-color="#000800"/><stop offset="0.4469" stop-color="#080800"/><stop offset="0.4527" stop-color="#300000"/><stop offset="0.4584" stop-color="#500000"/><stop offset="0.4642" stop-color="#200000"/><stop offset="0.4700" stop-color="#100000"/><stop offset="0.4758" stop-color="#500000"/><stop offset="0.4815" stop-color="#600000"/><stop offset="0.4873" stop-color="#300000"/><stop offset="0.4931" stop-color="#800000"/><stop offset="0.4988" stop-color="#600000"/><stop offset="0.5046" stop-color="#200000"/><stop offset="0.5104" stop-color="#100000"/><stop offset="0.5179" stop-color="#180000"/><stop offset="0.5237" stop-color="#002000"/><stop offset="0.5277" stop-color="#003000"/><stop offset="0.5312" stop-color="#003000"/><stop offset="0.5346" stop-color="#002800"/><stop offset="0.5393" stop-color="#600000"/><stop offset="0.5439" stop-color="#300000"/><stop offset="0.5485" stop-color="#a00000"/><stop offset="0.5531" stop-color="#700000"/><stop offset="0.5577" stop-color="#002800"/><stop offset="0.5635" stop-color="#003000"/><stop offset="0.5693" stop-color="#400000"/><stop offset="0.5751" stop-color="#300000"/><stop offset="0.5808" stop-color="#005000"/><stop offset="0.5866" stop-color="#005800"/><stop offset="0.5918" stop-color="#400000"/><stop offset="0.5970" stop-color="#a00000"/><stop offset="0.6028" stop-color="#400000"/><stop offset="0.6085" stop-color="#200000"/><stop offset="0.6172" stop-color="#180000"/><stop offset="0.6259" stop-color="#200000"/><stop offset="0.6345" stop-color="#280000"/><stop offset="0.6415" stop-color="#180000"/><stop offset="0.6472" stop-color="#600000"/><stop offset="0.6530" stop-color="#900000"/><stop offset="0.6588" stop-color="#800000"/><stop offset="0.6645" stop-color="#a00000"/><stop offset="0.6703" stop-color="#b00000"/><stop offset="0.6761" stop-color="#800000"/><stop offset="0.6819" stop-color="#400000"/><stop offset="0.6876" stop-color="#800000"/><stop offset="0.6934" stop-color="#a00000"/><stop offset="0.7009" stop-color="#b00000"/><stop offset="0.7067" stop-color="#a80000"/><stop offset="0.7102" stop-color="#b00000"/><stop offset="0.7148" stop-color="#a00000"/><stop offset="0.7194" stop-color="#600000"/><stop offset="0.7252" stop-color="#b00000"/><stop offset="0.7321" stop-color="#c00000"/><stop offset="0.7390" stop-color="#b00000"/><stop offset="0.7448" stop-color="#c80000"/><stop offset="0.7552" stop-color="#e00000"/><stop offset="0.7667" stop-color="#e80000"/><stop offset="0.7789" stop-color="#f00000"/><stop offset="0.7904" stop-color="#e80000"/><stop offset="0.8020" stop-color="#e00000"/><stop offset="0.8135" stop-color="#d80000"/><stop offset="0.8222" stop-color="#c00000"/><stop offset="0.8279" stop-color="#800000"/><stop offset="0.8337" stop-color="#a00000"/><stop offset="0.8395" stop-color="#c00000"/><stop offset="0.8482" stop-color="#c80000"/><stop offset="0.8545" stop-color="#c00000"/><stop offset="0.8603" stop-color="#b00000"/><stop offset="0.8678" stop-color="#a00000"/><stop offset="0.8753" stop-color="#600000"/><stop offset="0.8822" stop-color="#680000"/><stop offset="0.8891" stop-color="#780000"/><stop offset="0.8967" stop-color="#800000"/><stop offset="0.9042" stop-color="#780000"/><stop offset="0.9099" stop-color="#b00000"/><stop offset="0.9174" stop-color="#c00000"/><stop offset="0.9232" stop-color="#a00000"/><stop offset="0.9290" stop-color="#880000"/><stop offset="0.9376" stop-color="#800000"/><stop offset="0.9434" stop-color="#a00000"/><stop offset="0.9492" stop-color="#d00000"/><stop offset="0.9579" stop-color="#e00000"/><stop offset="0.9665" stop-color="#d80000"/><stop offset="0.9752" stop-color="#d00000"/><stop offset="0.9821" stop-color="#b00000"/><stop offset="0.9896" stop-color="#900000"/><stop offset="0.9994" stop-color="#a00000"/></linearGradient><linearGradient id="cb" x1="0" y1="0" x2="0" y2="1"><stop offset="0" stop-color="#ff0000"/><stop offset="0.47" stop-color="#000000"/><stop offset="1" stop-color="#00ff00"/></linearGradient></defs>
<rect width="550" height="318" fill="#fff"/>
<rect x="34.20" y="74.2" width="27.90" height="173.20" fill="url(#g1)"/><rect x="61.50" y="74.2" width="27.90" height="173.20" fill="url(#g2)"/><rect x="88.80" y="74.2" width="27.90" height="173.20" fill="url(#g3)"/><rect x="116.10" y="74.2" width="27.90" height="173.20" fill="url(#g4)"/><rect x="143.40" y="74.2" width="27.90" height="173.20" fill="url(#g5)"/><rect x="170.70" y="74.2" width="27.30" height="173.20" fill="url(#g6)"/>
<path d="M30.55 74.52L34.20 74.52M30.55 74.75L34.20 74.75M30.55 74.52L30.55 74.75M30.05 74.32L34.20 74.32M30.05 74.63L30.55 74.63M30.05 74.32L30.05 74.63M31.61 74.97L34.20 74.97M31.61 75.20L34.20 75.20M31.61 74.97L31.61 75.20M26.09 75.09L31.61 75.09M26.09 75.47L34.20 75.47M26.09 75.09L26.09 75.47M25.59 74.47L30.05 74.47M25.59 75.28L26.09 75.28M25.59 74.47L25.59 75.28M31.25 75.67L34.20 75.67M31.25 75.85L34.20 75.85M31.25 75.67L31.25 75.85M29.06 76.29L34.20 76.29M29.06 76.48L34.20 76.48M29.06 76.29L29.06 76.48M28.56 76.07L34.20 76.07M28.56 76.38L29.06 76.38M28.56 76.07L28.56 76.38M28.06 75.76L31.25 75.76M28.06 76.22L28.56 76.22M28.06 75.76L28.06 76.22M31.25 76.68L34.20 76.68M31.25 76.95L34.20 76.95M31.25 76.68L31.25 76.95M30.33 77.27L34.20 77.27M30.33 77.53L34.20 77.53M30.33 77.27L30.33 77.53M29.83 76.81L31.25 76.81M29.83 77.40L30.33 77.40M29.83 76.81L29.83 77.40M30.22 78.02L34.20 78.02M30.22 78.28L34.20 78.28M30.22 78.02L30.22 78.28M29.72 77.76L34.20 77.76M29.72 78.15L30.22 78.15M29.72 77.76L29.72 78.15M28.84 77.11L29.83 77.11M28.84 77.95L29.72 77.95M28.84 77.11L28.84 77.95M27.56 75.99L28.06 75.99M27.56 77.53L28.84 77.53M27.56 75.99L27.56 77.53M25.09 74.88L25.59 74.88M25.09 76.76L27.56 76.76M25.09 74.88L25.09 76.76M31.01 78.71L34.20 78.71M31.01 78.89L34.20 78.89M31.01 78.71L31.01 78.89M30.51 78.53L34.20 78.53M30.51 78.80L31.01 78.80M30.51 78.53L30.51 78.80M31.26 79.24L34.20 79.24M31.26 79.40L34.20 79.40M31.26 79.24L31.26 79.40M30.76 79.09L34.20 79.09M30.76 79.32L31.26 79.32M30.76 79.09L30.76 79.32M30.01 78.67L30.51 78.67M30.01 79.21L30.76 79.21M30.01 78.67L30.01 79.21M30.13 79.63L34.20 79.63M30.13 79.85L34.20 79.85M30.13 79.63L30.13 79.85M31.85 80.05L34.20 80.05M31.85 80.25L34.20 80.25M31.85 80.05L31.85 80.25M29.63 79.74L30.13 79.74M29.63 80.15L31.85 80.15M29.63 79.74L29.63 80.15M28.39 78.94L30.01 78.94M28.39 79.95L29.63 79.95M28.39 78.94L28.39 79.95M29.97 80.44L34.20 80.44M29.97 80.65L34.20 80.65M29.97 80.44L29.97 80.65M31.26 81.15L34.20 81.15M31.26 81.34L34.20 81.34M31.26 81.15L31.26 81.34M30.76 80.90L34.20 80.90M30.76 81.25L31.26 81.25M30.76 80.90L30.76 81.25M29.47 80.54L29.97 80.54M29.47 81.07L30.76 81.07M29.47 80.54L29.47 81.07M27.89 79.44L28.39 79.44M27.89 80.81L29.47 80.81M27.89 79.44L27.89 80.81M30.08 81.48L34.20 81.48M30.08 81.69L34.20 81.69M30.08 81.48L30.08 81.69M29.96 81.93L34.20 81.93M29.96 82.18L34.20 82.18M29.96 81.93L29.96 82.18M29.00 81.59L30.08 81.59M29.00 82.06L29.96 82.06M29.00 81.59L29.00 82.06M29.96 82.62L34.20 82.62M29.96 82.80L34.20 82.80M29.96 82.62L29.96 82.80M27.99 82.42L34.20 82.42M27.99 82.71L29.96 82.71M27.99 82.42L27.99 82.71M27.49 81.82L29.00 81.82M27.49 82.56L27.99 82.56M27.49 81.82L27.49 82.56M30.06 82.95L34.20 82.95M30.06 83.12L34.20 83.12M30.06 82.95L30.06 83.12M29.56 83.03L30.06 83.03M29.56 83.31L34.20 83.31M29.56 83.03L29.56 83.31M30.50 83.48L34.20 83.48M30.50 83.68L34.20 83.68M30.50 83.48L30.50 83.68M26.30 83.58L30.50 83.58M26.30 83.89L34.20 83.89M26.30 83.58L26.30 83.89M25.80 83.17L29.56 83.17M25.80 83.73L26.30 83.73M25.80 83.17L25.80 83.73M25.30 82.19L27.49 82.19M25.30 83.45L25.80 83.45M25.30 82.19L25.30 83.45M24.80 80.13L27.89 80.13M24.80 82.82L25.30 82.82M24.80 80.13L24.80 82.82M23.16 75.82L25.09 75.82M23.16 81.47L24.80 81.47M23.16 75.82L23.16 81.47M30.79 84.11L34.20 84.11M30.79 84.28L34.20 84.28M30.79 84.11L30.79 84.28M30.29 84.19L30.79 84.19M30.29 84.42L34.20 84.42M30.29 84.19L30.29 84.42M28.13 84.31L30.29 84.31M28.13 84.65L34.20 84.65M28.13 84.31L28.13 84.65M32.10 85.15L34.20 85.15M32.10 85.33L34.20 85.33M32.10 85.15L32.10 85.33M31.28 84.93L34.20 84.93M31.28 85.24L32.10 85.24M31.28 84.93L31.28 85.24M31.96 85.74L34.20 85.74M31.96 85.90L34.20 85.90M31.96 85.74L31.96 85.90M30.42 85.53L34.20 85.53M30.42 85.82L31.96 85.82M30.42 85.53L30.42 85.82M29.92 85.67L30.42 85.67M29.92 86.08L34.20 86.08M29.92 85.67L29.92 86.08M28.51 85.09L31.28 85.09M28.51 85.88L29.92 85.88M28.51 85.09L28.51 85.88M27.63 84.48L28.13 84.48M27.63 85.48L28.51 85.48M27.63 84.48L27.63 85.48M30.48 86.32L34.20 86.32M30.48 86.54L34.20 86.54M30.48 86.32L30.48 86.54M29.98 86.43L30.48 86.43M29.98 86.77L34.20 86.77M29.98 86.43L29.98 86.77M31.61 87.00L34.20 87.00M31.61 87.27L34.20 87.27M31.61 87.00L31.61 87.27M29.30 86.60L29.98 86.60M29.30 87.14L31.61 87.14M29.30 86.60L29.30 87.14M27.13 84.98L27.63 84.98M27.13 86.87L29.30 86.87M27.13 84.98L27.13 86.87M31.33 87.51L34.20 87.51M31.33 87.68L34.20 87.68M31.33 87.51L31.33 87.68M30.44 88.10L34.20 88.10M30.44 88.26L34.20 88.26M30.44 88.10L30.44 88.26M29.94 87.89L34.20 87.89M29.94 88.18L30.44 88.18M29.94 87.89L29.94 88.18M29.44 87.59L31.33 87.59M29.44 88.04L29.94 88.04M29.44 87.59L29.44 88.04M30.50 88.47L34.20 88.47M30.50 88.68L34.20 88.68M30.50 88.47L30.50 88.68M28.94 87.82L29.44 87.82M28.94 88.57L30.50 88.57M28.94 87.82L28.94 88.57M28.67 88.90L34.20 88.90M28.67 89.13L34.20 89.13M28.67 88.90L28.67 89.13M28.17 89.01L28.67 89.01M28.17 89.35L34.20 89.35M28.17 89.01L28.17 89.35M27.45 88.19L28.94 88.19M27.45 89.18L28.17 89.18M27.45 88.19L27.45 89.18M30.41 89.84L34.20 89.84M30.41 90.09L34.20 90.09M30.41 89.84L30.41 90.09M29.91 89.58L34.20 89.58M29.91 89.96L30.41 89.96M29.91 89.58L29.91 89.96M30.66 90.29L34.20 90.29M30.66 90.50L34.20 90.50M30.66 90.29L30.66 90.50M29.93 90.40L30.66 90.40M29.93 90.75L34.20 90.75M29.93 90.40L29.93 90.75M29.41 89.77L29.91 89.77M29.41 90.57L29.93 90.57M29.41 89.77L29.41 90.57M26.86 88.69L27.45 88.69M26.86 90.17L29.41 90.17M26.86 88.69L26.86 90.17M31.01 91.03L34.20 91.03M31.01 91.31L34.20 91.31M31.01 91.03L31.01 91.31M30.50 91.17L31.01 91.17M30.50 91.58L34.20 91.58M30.50 91.17L30.50 91.58M31.60 91.85L34.20 91.85M31.60 92.05L34.20 92.05M31.60 91.85L31.60 92.05M30.68 92.25L34.20 92.25M30.68 92.47L34.20 92.47M30.68 92.25L30.68 92.47M30.18 91.95L31.60 91.95M30.18 92.36L30.68 92.36M30.18 91.95L30.18 92.36M29.68 91.37L30.50 91.37M29.68 92.15L30.18 92.15M29.68 91.37L29.68 92.15M31.55 92.62L34.20 92.62M31.55 92.84L34.20 92.84M31.55 92.62L31.55 92.84M32.03 93.05L34.20 93.05M32.03 93.22L34.20 93.22M32.03 93.05L32.03 93.22M31.05 92.73L31.55 92.73M31.05 93.13L32.03 93.13M31.05 92.73L31.05 93.13M31.20 93.45L34.20 93.45M31.20 93.62L34.20 93.62M31.20 93.45L31.20 93.62M30.19 93.80L34.20 93.80M30.19 94.07L34.20 94.07M30.19 93.80L30.19 94.07M29.69 93.53L31.20 93.53M29.69 93.94L30.19 93.94M29.69 93.53L29.69 93.94M28.59 92.93L31.05 92.93M28.59 93.74L29.69 93.74M28.59 92.93L28.59 93.74M28.86 94.32L34.20 94.32M28.86 94.55L34.20 94.55M28.86 94.32L28.86 94.55M30.41 94.76L34.20 94.76M30.41 94.92L34.20 94.92M30.41 94.76L30.41 94.92M28.36 94.43L28.86 94.43M28.36 94.84L30.41 94.84M28.36 94.43L28.36 94.84M27.86 93.33L28.59 93.33M27.86 94.64L28.36 94.64M27.86 93.33L27.86 94.64M26.77 91.76L29.68 91.76M26.77 93.98L27.86 93.98M26.77 91.76L26.77 93.98M24.76 89.43L26.86 89.43M24.76 92.87L26.77 92.87M24.76 89.43L24.76 92.87M23.40 85.92L27.13 85.92M23.40 91.15L24.76 91.15M23.40 85.92L23.40 91.15M18.20 78.65L23.16 78.65M18.20 88.54L23.40 88.54M18.20 78.65L18.20 88.54M31.60 95.09L34.20 95.09M31.60 95.25L34.20 95.25M31.60 95.09L31.60 95.25M27.30 95.47L34.20 95.47M27.30 95.72L34.20 95.72M27.30 95.47L27.30 95.72M26.80 95.17L31.60 95.17M26.80 95.59L27.30 95.59M26.80 95.17L26.80 95.59M31.36 96.06L34.20 96.06M31.36 96.24L34.20 96.24M31.36 96.06L31.36 96.24M30.86 95.90L34.20 95.90M30.86 96.15L31.36 96.15M30.86 95.90L30.86 96.15M30.43 96.42L34.20 96.42M30.43 96.63L34.20 96.63M30.43 96.42L30.43 96.63M28.56 96.03L30.86 96.03M28.56 96.52L30.43 96.52M28.56 96.03L28.56 96.52M26.30 95.38L26.80 95.38M26.30 96.27L28.56 96.27M26.30 95.38L26.30 96.27M29.06 97.04L34.20 97.04M29.06 97.20L34.20 97.20M29.06 97.04L29.06 97.20M28.56 96.87L34.20 96.87M28.56 97.12L29.06 97.12M28.56 96.87L28.56 97.12M31.27 97.40L34.20 97.40M31.27 97.56L34.20 97.56M31.27 97.40L31.27 97.56M30.29 97.48L31.27 97.48M30.29 97.72L34.20 97.72M30.29 97.48L30.29 97.72M31.14 97.90L34.20 97.90M31.14 98.13L34.20 98.13M31.14 97.90L31.14 98.13M29.79 97.60L30.29 97.60M29.79 98.02L31.14 98.02M29.79 97.60L29.79 98.02M27.52 96.99L28.56 96.99M27.52 97.81L29.79 97.81M27.52 96.99L27.52 97.81M31.20 98.92L34.20 98.92M31.20 99.11L34.20 99.11M31.20 98.92L31.20 99.11M27.82 98.67L34.20 98.67M27.82 99.01L31.20 99.01M27.82 98.67L27.82 99.01M27.32 98.40L34.20 98.40M27.32 98.84L27.82 98.84M27.32 98.40L27.32 98.84M32.13 99.53L34.20 99.53M32.13 99.72L34.20 99.72M32.13 99.53L32.13 99.72M29.99 99.31L34.20 99.31M29.99 99.62L32.13 99.62M29.99 99.31L29.99 99.62M26.82 98.62L27.32 98.62M26.82 99.47L29.99 99.47M26.82 98.62L26.82 99.47M30.32 99.91L34.20 99.91M30.32 100.09L34.20 100.09M30.32 99.91L30.32 100.09M30.36 100.28L34.20 100.28M30.36 100.45L34.20 100.45M30.36 100.28L30.36 100.45M29.82 100.00L30.32 100.00M29.82 100.37L30.36 100.37M29.82 100.00L29.82 100.37M26.32 99.04L26.82 99.04M26.32 100.19L29.82 100.19M26.32 99.04L26.32 100.19M25.82 97.40L27.52 97.40M25.82 99.61L26.32 99.61M25.82 97.40L25.82 99.61M25.32 95.83L26.30 95.83M25.32 98.51L25.82 98.51M25.32 95.83L25.32 98.51M31.34 100.63L34.20 100.63M31.34 100.79L34.20 100.79M31.34 100.63L31.34 100.79M30.84 100.96L34.20 100.96M30.84 101.16L34.20 101.16M30.84 100.96L30.84 101.16M30.34 101.06L30.84 101.06M30.34 101.43L34.20 101.43M30.34 101.06L30.34 101.43M29.02 100.71L31.34 100.71M29.02 101.24L30.34 101.24M29.02 100.71L29.02 101.24M31.33 101.92L34.20 101.92M31.33 102.08L34.20 102.08M31.33 101.92L31.33 102.08M30.83 102.00L31.33 102.00M30.83 102.32L34.20 102.32M30.83 102.00L30.83 102.32M30.33 101.72L34.20 101.72M30.33 102.16L30.83 102.16M30.33 101.72L30.33 102.16M30.30 102.60L34.20 102.60M30.30 102.87L34.20 102.87M30.30 102.60L30.30 102.87M30.32 103.08L34.20 103.08M30.32 103.31L34.20 103.31M30.32 103.08L30.32 103.31M29.80 102.73L30.30 102.73M29.80 103.19L30.32 103.19M29.80 102.73L29.80 103.19M31.22 103.58L34.20 103.58M31.22 103.87L34.20 103.87M31.22 103.58L31.22 103.87M29.30 102.96L29.80 102.96M29.30 103.72L31.22 103.72M29.30 102.96L29.30 103.72M28.80 101.94L30.33 101.94M28.80 103.34L29.30 103.34M28.80 101.94L28.80 103.34M26.61 100.98L29.02 100.98M26.61 102.64L28.80 102.64M26.61 100.98L26.61 102.64M24.78 97.17L25.32 97.17M24.78 101.81L26.61 101.81M24.78 97.17L24.78 101.81M29.79 104.10L34.20 104.10M29.79 104.34L34.20 104.34M29.79 104.10L29.79 104.34M29.97 104.59L34.20 104.59M29.97 104.78L34.20 104.78M29.97 104.59L29.97 104.78M29.47 104.69L29.97 104.69M29.47 105.02L34.20 105.02M29.47 104.69L29.47 105.02M28.97 104.85L29.47 104.85M28.97 105.32L34.20 105.32M28.97 104.85L28.97 105.32M28.47 104.22L29.79 104.22M28.47 105.08L28.97 105.08M28.47 104.22L28.47 105.08M28.27 105.82L34.20 105.82M28.27 106.00L34.20 106.00M28.27 105.82L28.27 106.00M27.77 105.91L28.27 105.91M27.77 106.21L34.20 106.21M27.77 105.91L27.77 106.21M27.27 105.60L34.20 105.60M27.27 106.06L27.77 106.06M27.27 105.60L27.27 106.06M31.15 106.62L34.20 106.62M31.15 106.80L34.20 106.80M31.15 106.62L31.15 106.80M30.65 106.45L34.20 106.45M30.65 106.71L31.15 106.71M30.65 106.45L30.65 106.71M26.77 105.83L27.27 105.83M26.77 106.58L30.65 106.58M26.77 105.83L26.77 106.58M26.27 104.65L28.47 104.65M26.27 106.21L26.77 106.21M26.27 104.65L26.27 106.21M28.63 107.06L34.20 107.06M28.63 107.26L34.20 107.26M28.63 107.06L28.63 107.26M30.29 107.42L34.20 107.42M30.29 107.60L34.20 107.60M30.29 107.42L30.29 107.60M30.10 107.77L34.20 107.77M30.10 107.96L34.20 107.96M30.10 107.77L30.10 107.96M28.91 107.51L30.29 107.51M28.91 107.86L30.10 107.86M28.91 107.51L28.91 107.86M28.13 107.16L28.63 107.16M28.13 107.69L28.91 107.69M28.13 107.16L28.13 107.69M31.05 108.14L34.20 108.14M31.05 108.31L34.20 108.31M31.05 108.14L31.05 108.31M28.28 108.48L34.20 108.48M28.28 108.68L34.20 108.68M28.28 108.48L28.28 108.68M27.78 108.23L31.05 108.23M27.78 108.58L28.28 108.58M27.78 108.23L27.78 108.58M31.04 109.10L34.20 109.10M31.04 109.26L34.20 109.26M31.04 109.10L31.04 109.26M30.54 108.93L34.20 108.93M30.54 109.18L31.04 109.18M30.54 108.93L30.54 109.18M27.28 108.40L27.78 108.40M27.28 109.05L30.54 109.05M27.28 108.40L27.28 109.05M30.39 109.45L34.20 109.45M30.39 109.61L34.20 109.61M30.39 109.45L30.39 109.61M29.89 109.53L30.39 109.53M29.89 109.76L34.20 109.76M29.89 109.53L29.89 109.76M29.39 109.65L29.89 109.65M29.39 109.97L34.20 109.97M29.39 109.65L29.39 109.97M26.78 108.73L27.28 108.73M26.78 109.81L29.39 109.81M26.78 108.73L26.78 109.81M26.28 107.42L28.13 107.42M26.28 109.27L26.78 109.27M26.28 107.42L26.28 109.27M30.64 110.47L34.20 110.47M30.64 110.68L34.20 110.68M30.64 110.47L30.64 110.68M29.85 110.25L34.20 110.25M29.85 110.58L30.64 110.58M29.85 110.25L29.85 110.58M30.98 110.92L34.20 110.92M30.98 111.15L34.20 111.15M30.98 110.92L30.98 111.15M30.24 111.04L30.98 111.04M30.24 111.44L34.20 111.44M30.24 111.04L30.24 111.44M29.35 110.41L29.85 110.41M29.35 111.24L30.24 111.24M29.35 110.41L29.35 111.24M25.78 108.35L26.28 108.35M25.78 110.83L29.35 110.83M25.78 108.35L25.78 110.83M30.83 111.74L34.20 111.74M30.83 111.93L34.20 111.93M30.83 111.74L30.83 111.93M30.53 112.05L34.20 112.05M30.53 112.25L34.20 112.25M30.53 112.05L30.53 112.25M30.03 111.83L30.83 111.83M30.03 112.15L30.53 112.15M30.03 111.83L30.03 112.15M30.54 112.45L34.20 112.45M30.54 112.61L34.20 112.61M30.54 112.45L30.54 112.61M29.86 112.53L30.54 112.53M29.86 112.81L34.20 112.81M29.86 112.53L29.86 112.81M31.30 113.08L34.20 113.08M31.30 113.35L34.20 113.35M31.30 113.08L31.30 113.35M29.89 113.21L31.30 113.21M29.89 113.60L34.20 113.60M29.89 113.21L29.89 113.60M29.36 112.67L29.86 112.67M29.36 113.41L29.89 113.41M29.36 112.67L29.36 113.41M28.45 111.99L30.03 111.99M28.45 113.04L29.36 113.04M28.45 111.99L28.45 113.04M24.99 109.59L25.78 109.59M24.99 112.52L28.45 112.52M24.99 109.59L24.99 112.52M24.49 105.43L26.27 105.43M24.49 111.05L24.99 111.05M24.49 105.43L24.49 111.05M29.49 113.80L34.20 113.80M29.49 113.98L34.20 113.98M29.49 113.80L29.49 113.98M28.99 113.89L29.49 113.89M28.99 114.20L34.20 114.20M28.99 113.89L28.99 114.20M31.93 114.45L34.20 114.45M31.93 114.70L34.20 114.70M31.93 114.45L31.93 114.70M25.87 114.05L28.99 114.05M25.87 114.58L31.93 114.58M25.87 114.05L25.87 114.58M30.23 114.93L34.20 114.93M30.23 115.14L34.20 115.14M30.23 114.93L30.23 115.14M32.10 115.31L34.20 115.31M32.10 115.48L34.20 115.48M32.10 115.31L32.10 115.48M29.73 115.03L30.23 115.03M29.73 115.40L32.10 115.40M29.73 115.03L29.73 115.40M25.37 114.31L25.87 114.31M25.37 115.22L29.73 115.22M25.37 114.31L25.37 115.22M29.39 115.71L34.20 115.71M29.39 115.93L34.20 115.93M29.39 115.71L29.39 115.93M30.89 116.08L34.20 116.08M30.89 116.24L34.20 116.24M30.89 116.08L30.89 116.24M29.49 116.16L30.89 116.16M29.49 116.49L34.20 116.49M29.49 116.16L29.49 116.49M28.26 115.82L29.39 115.82M28.26 116.32L29.49 116.32M28.26 115.82L28.26 116.32M24.87 114.76L25.37 114.76M24.87 116.07L28.26 116.07M24.87 114.76L24.87 116.07M29.58 116.71L34.20 116.71M29.58 116.87L34.20 116.87M29.58 116.71L29.58 116.87M29.08 116.79L29.58 116.79M29.08 117.04L34.20 117.04M29.08 116.79L29.08 117.04M26.69 117.23L34.20 117.23M26.69 117.41L34.20 117.41M26.69 117.23L26.69 117.41M26.19 116.91L29.08 116.91M26.19 117.32L26.69 117.32M26.19 116.91L26.19 117.32M30.84 117.85L34.20 117.85M30.84 118.03L34.20 118.03M30.84 117.85L30.84 118.03M30.34 117.61L34.20 117.61M30.34 117.94L30.84 117.94M30.34 117.61L30.34 117.94M25.69 117.12L26.19 117.12M25.69 117.78L30.34 117.78M25.69 117.12L25.69 117.78M32.03 118.18L34.20 118.18M32.03 118.39L34.20 118.39M32.03 118.18L32.03 118.39M31.07 118.58L34.20 118.58M31.07 118.74L34.20 118.74M31.07 118.58L31.07 118.74M30.57 118.29L32.03 118.29M30.57 118.66L31.07 118.66M30.57 118.29L30.57 118.66M30.34 118.95L34.20 118.95M30.34 119.12L34.20 119.12M30.34 118.95L30.34 119.12M27.14 119.04L30.34 119.04M27.14 119.27L34.20 119.27M27.14 119.04L27.14 119.27M26.64 119.16L27.14 119.16M26.64 119.49L34.20 119.49M26.64 119.16L26.64 119.49M26.14 118.47L30.57 118.47M26.14 119.32L26.64 119.32M26.14 118.47L26.14 119.32M23.44 117.45L25.69 117.45M23.44 118.90L26.14 118.90M23.44 117.45L23.44 118.90M31.50 119.88L34.20 119.88M31.50 120.10L34.20 120.10M31.50 119.88L31.50 120.10M26.40 119.71L34.20 119.71M26.40 119.99L31.50 119.99M26.40 119.71L26.40 119.99M30.83 120.36L34.20 120.36M30.83 120.60L34.20 120.60M30.83 120.36L30.83 120.60M30.33 120.48L30.83 120.48M30.33 120.86L34.20 120.86M30.33 120.48L30.33 120.86M25.90 119.85L26.40 119.85M25.90 120.67L30.33 120.67M25.90 119.85L25.90 120.67M22.94 118.17L23.44 118.17M22.94 120.26L25.90 120.26M22.94 118.17L22.94 120.26M20.92 115.42L24.87 115.42M20.92 119.22L22.94 119.22M20.92 115.42L20.92 119.22M20.42 108.24L24.49 108.24M20.42 117.32L20.92 117.32M20.42 108.24L20.42 117.32M31.55 121.11L34.20 121.11M31.55 121.27L34.20 121.27M31.55 121.11L31.55 121.27M30.61 121.39L34.20 121.39M30.61 121.61L34.20 121.61M30.61 121.39L30.61 121.61M28.42 121.19L31.55 121.19M28.42 121.50L30.61 121.50M28.42 121.19L28.42 121.50M31.13 121.86L34.20 121.86M31.13 122.08L34.20 122.08M31.13 121.86L31.13 122.08M30.63 121.97L31.13 121.97M30.63 122.29L34.20 122.29M30.63 121.97L30.63 122.29M27.92 121.35L28.42 121.35M27.92 122.13L30.63 122.13M27.92 121.35L27.92 122.13M31.67 122.81L34.20 122.81M31.67 123.03L34.20 123.03M31.67 122.81L31.67 123.03M31.17 122.53L34.20 122.53M31.17 122.92L31.67 122.92M31.17 122.53L31.17 122.92M24.61 121.74L27.92 121.74M24.61 122.72L31.17 122.72M24.61 121.74L24.61 122.72M30.51 123.19L34.20 123.19M30.51 123.42L34.20 123.42M30.51 123.19L30.51 123.42M32.20 123.88L34.20 123.88M32.20 124.06L34.20 124.06M32.20 123.88L32.20 124.06M29.01 123.69L34.20 123.69M29.01 123.97L32.20 123.97M29.01 123.69L29.01 123.97M27.97 123.30L30.51 123.30M27.97 123.83L29.01 123.83M27.97 123.30L27.97 123.83M24.11 122.23L24.61 122.23M24.11 123.57L27.97 123.57M24.11 122.23L24.11 123.57M31.97 124.27L34.20 124.27M31.97 124.43L34.20 124.43M31.97 124.27L31.97 124.43M30.81 124.56L34.20 124.56M30.81 124.75L34.20 124.75M30.81 124.56L30.81 124.75M30.31 124.35L31.97 124.35M30.31 124.66L30.81 124.66M30.31 124.35L30.31 124.66M30.60 124.94L34.20 124.94M30.60 125.10L34.20 125.10M30.60 124.94L30.60 125.10M24.50 125.30L34.20 125.30M24.50 125.50L34.20 125.50M24.50 125.30L24.50 125.50M24.00 125.02L30.60 125.02M24.00 125.40L24.50 125.40M24.00 125.02L24.00 125.40M23.50 124.50L30.31 124.50M23.50 125.21L24.00 125.21M23.50 124.50L23.50 125.21M30.35 125.75L34.20 125.75M30.35 126.06L34.20 126.06M30.35 125.75L30.35 126.06M23.00 124.86L23.50 124.86M23.00 125.91L30.35 125.91M23.00 124.86L23.00 125.91M22.50 122.90L24.11 122.90M22.50 125.38L23.00 125.38M22.50 122.90L22.50 125.38M31.47 126.62L34.20 126.62M31.47 126.84L34.20 126.84M31.47 126.62L31.47 126.84M30.97 126.73L31.47 126.73M30.97 127.07L34.20 127.07M30.97 126.73L30.97 127.07M29.76 126.37L34.20 126.37M29.76 126.90L30.97 126.90M29.76 126.37L29.76 126.90M30.50 127.27L34.20 127.27M30.50 127.44L34.20 127.44M30.50 127.27L30.50 127.44M30.00 127.35L30.50 127.35M30.00 127.63L34.20 127.63M30.00 127.35L30.00 127.63M29.26 126.64L29.76 126.64M29.26 127.49L30.00 127.49M29.26 126.64L29.26 127.49M30.01 127.86L34.20 127.86M30.01 128.09L34.20 128.09M30.01 127.86L30.01 128.09M31.12 128.32L34.20 128.32M31.12 128.53L34.20 128.53M31.12 128.32L31.12 128.53M29.81 128.42L31.12 128.42M29.81 128.76L34.20 128.76M29.81 128.42L29.81 128.76M29.31 127.98L30.01 127.98M29.31 128.59L29.81 128.59M29.31 127.98L29.31 128.59M28.59 127.06L29.26 127.06M28.59 128.28L29.31 128.28M28.59 127.06L28.59 128.28M21.66 124.14L22.50 124.14M21.66 127.67L28.59 127.67M21.66 124.14L21.66 127.67M27.55 129.05L34.20 129.05M27.55 129.26L34.20 129.26M27.55 129.05L27.55 129.26M27.05 129.15L27.55 129.15M27.05 129.46L34.20 129.46M27.05 129.15L27.05 129.46M29.45 129.68L34.20 129.68M29.45 129.89L34.20 129.89M29.45 129.68L29.45 129.89M30.65 130.13L34.20 130.13M30.65 130.36L34.20 130.36M30.65 130.13L30.65 130.36M28.39 129.78L29.45 129.78M28.39 130.24L30.65 130.24M28.39 129.78L28.39 130.24M26.55 129.31L27.05 129.31M26.55 130.01L28.39 130.01M26.55 129.31L26.55 130.01M31.94 130.59L34.20 130.59M31.94 130.80L34.20 130.80M31.94 130.59L31.94 130.80M32.15 131.01L34.20 131.01M32.15 131.20L34.20 131.20M32.15 131.01L32.15 131.20M30.62 130.69L31.94 130.69M30.62 131.10L32.15 131.10M30.62 130.69L30.62 131.10M31.04 131.65L34.20 131.65M31.04 131.84L34.20 131.84M31.04 131.65L31.04 131.84M29.47 131.75L31.04 131.75M29.47 132.10L34.20 132.10M29.47 131.75L29.47 132.10M28.21 131.42L34.20 131.42M28.21 131.92L29.47 131.92M28.21 131.42L28.21 131.92M27.71 130.90L30.62 130.90M27.71 131.67L28.21 131.67M27.71 130.90L27.71 131.67M23.45 129.66L26.55 129.66M23.45 131.29L27.71 131.29M23.45 129.66L23.45 131.29M30.13 132.40L34.20 132.40M30.13 132.65L34.20 132.65M30.13 132.40L30.13 132.65M31.45 132.81L34.20 132.81M31.45 132.99L34.20 132.99M31.45 132.81L31.45 132.99M29.63 132.53L30.13 132.53M29.63 132.90L31.45 132.90M29.63 132.53L29.63 132.90M30.68 133.21L34.20 133.21M30.68 133.44L34.20 133.44M30.68 133.21L30.68 133.44M31.46 133.62L34.20 133.62M31.46 133.80L34.20 133.80M31.46 133.62L31.46 133.80M29.09 133.33L30.68 133.33M29.09 133.71L31.46 133.71M29.09 133.33L29.09 133.71M28.59 132.72L29.63 132.72M28.59 133.52L29.09 133.52M28.59 132.72L28.59 133.52M30.57 134.03L34.20 134.03M30.57 134.22L34.20 134.22M30.57 134.03L30.57 134.22M29.91 134.62L34.20 134.62M29.91 134.81L34.20 134.81M29.91 134.62L29.91 134.81M29.41 134.42L34.20 134.42M29.41 134.71L29.91 134.71M29.41 134.42L29.41 134.71M28.91 134.12L30.57 134.12M28.91 134.57L29.41 134.57M28.91 134.12L28.91 134.57M27.19 133.12L28.59 133.12M27.19 134.34L28.91 134.34M27.19 133.12L27.19 134.34M22.95 130.47L23.45 130.47M22.95 133.73L27.19 133.73M22.95 130.47L22.95 133.73M32.18 134.98L34.20 134.98M32.18 135.17L34.20 135.17M32.18 134.98L32.18 135.17M31.47 135.08L32.18 135.08M31.47 135.37L34.20 135.37M31.47 135.08L31.47 135.37M28.42 135.60L34.20 135.60M28.42 135.82L34.20 135.82M28.42 135.60L28.42 135.82M27.92 135.71L28.42 135.71M27.92 136.00L34.20 136.00M27.92 135.71L27.92 136.00M27.42 135.22L31.47 135.22M27.42 135.86L27.92 135.86M27.42 135.22L27.42 135.86M31.16 136.18L34.20 136.18M31.16 136.39L34.20 136.39M31.16 136.18L31.16 136.39M29.96 136.91L34.20 136.91M29.96 137.14L34.20 137.14M29.96 136.91L29.96 137.14M29.46 136.67L34.20 136.67M29.46 137.03L29.96 137.03M29.46 136.67L29.46 137.03M28.76 136.29L31.16 136.29M28.76 136.85L29.46 136.85M28.76 136.29L28.76 136.85M26.92 135.54L27.42 135.54M26.92 136.57L28.76 136.57M26.92 135.54L26.92 136.57M32.25 137.33L34.20 137.33M32.25 137.50L34.20 137.50M32.25 137.33L32.25 137.50M31.01 137.42L32.25 137.42M31.01 137.77L34.20 137.77M31.01 137.42L31.01 137.77M25.57 138.04L34.20 138.04M25.57 138.30L34.20 138.30M25.57 138.04L25.57 138.30M25.07 137.59L31.01 137.59M25.07 138.17L25.57 138.17M25.07 137.59L25.07 138.17M31.43 138.73L34.20 138.73M31.43 138.90L34.20 138.90M31.43 138.73L31.43 138.90M30.36 138.53L34.20 138.53M30.36 138.81L31.43 138.81M30.36 138.53L30.36 138.81M31.15 139.28L34.20 139.28M31.15 139.44L34.20 139.44M31.15 139.28L31.15 139.44M29.77 139.07L34.20 139.07M29.77 139.36L31.15 139.36M29.77 139.07L29.77 139.36M29.27 138.67L30.36 138.67M29.27 139.22L29.77 139.22M29.27 138.67L29.27 139.22M30.60 139.80L34.20 139.80M30.60 140.02L34.20 140.02M30.60 139.80L30.60 140.02M29.75 139.61L34.20 139.61M29.75 139.91L30.60 139.91M29.75 139.61L29.75 139.91M30.70 140.22L34.20 140.22M30.70 140.39L34.20 140.39M30.70 140.22L30.70 140.39M28.34 139.76L29.75 139.76M28.34 140.31L30.70 140.31M28.34 139.76L28.34 140.31M27.84 138.94L29.27 138.94M27.84 140.03L28.34 140.03M27.84 138.94L27.84 140.03M24.57 137.88L25.07 137.88M24.57 139.49L27.84 139.49M24.57 137.88L24.57 139.49M31.28 140.91L34.20 140.91M31.28 141.14L34.20 141.14M31.28 140.91L31.28 141.14M28.69 140.61L34.20 140.61M28.69 141.02L31.28 141.02M28.69 140.61L28.69 141.02M27.69 141.57L34.20 141.57M27.69 141.85L34.20 141.85M27.69 141.57L27.69 141.85M27.19 141.33L34.20 141.33M27.19 141.71L27.69 141.71M27.19 141.33L27.19 141.71M26.69 140.82L28.69 140.82M26.69 141.52L27.19 141.52M26.69 140.82L26.69 141.52M24.07 138.69L24.57 138.69M24.07 141.17L26.69 141.17M24.07 138.69L24.07 141.17M23.57 136.05L26.92 136.05M23.57 139.93L24.07 139.93M23.57 136.05L23.57 139.93M22.45 132.10L22.95 132.10M22.45 137.99L23.57 137.99M22.45 132.10L22.45 137.99M19.87 125.91L21.66 125.91M19.87 135.05L22.45 135.05M19.87 125.91L19.87 135.05M19.37 112.78L20.42 112.78M19.37 130.48L19.87 130.48M19.37 112.78L19.37 130.48M18.20 99.49L24.78 99.49M18.20 121.63L19.37 121.63M18.20 99.49L18.20 121.63M14.20 83.59L18.20 83.59M14.20 110.56L18.20 110.56M14.20 83.59L14.20 110.56M29.22 142.14L34.20 142.14M29.22 142.36L34.20 142.36M29.22 142.14L29.22 142.36M30.68 142.51L34.20 142.51M30.68 142.73L34.20 142.73M30.68 142.51L30.68 142.73M31.70 143.02L34.20 143.02M31.70 143.24L34.20 143.24M31.70 143.02L31.70 143.24M30.18 142.62L30.68 142.62M30.18 143.13L31.70 143.13M30.18 142.62L30.18 143.13M28.72 142.25L29.22 142.25M28.72 142.88L30.18 142.88M28.72 142.25L28.72 142.88M30.33 143.40L34.20 143.40M30.33 143.61L34.20 143.61M30.33 143.40L30.33 143.61M31.63 143.83L34.20 143.83M31.63 144.05L34.20 144.05M31.63 143.83L31.63 144.05M29.83 143.50L30.33 143.50M29.83 143.94L31.63 143.94M29.83 143.50L29.83 143.94M31.61 144.49L34.20 144.49M31.61 144.67L34.20 144.67M31.61 144.49L31.61 144.67M31.11 144.30L34.20 144.30M31.11 144.58L31.61 144.58M31.11 144.30L31.11 144.58M30.84 145.16L34.20 145.16M30.84 145.36L34.20 145.36M30.84 145.16L30.84 145.36M30.34 144.91L34.20 144.91M30.34 145.26L30.84 145.26M30.34 144.91L30.34 145.26M29.84 144.44L31.11 144.44M29.84 145.08L30.34 145.08M29.84 144.44L29.84 145.08M31.57 145.86L34.20 145.86M31.57 146.06L34.20 146.06M31.57 145.86L31.57 146.06M30.24 145.59L34.20 145.59M30.24 145.96L31.57 145.96M30.24 145.59L30.24 145.96M28.57 144.76L29.84 144.76M28.57 145.78L30.24 145.78M28.57 144.76L28.57 145.78M28.07 143.72L29.83 143.72M28.07 145.27L28.57 145.27M28.07 143.72L28.07 145.27M26.88 142.56L28.72 142.56M26.88 144.50L28.07 144.50M26.88 142.56L26.88 144.50M31.84 146.42L34.20 146.42M31.84 146.62L34.20 146.62M31.84 146.42L31.84 146.62M31.34 146.25L34.20 146.25M31.34 146.52L31.84 146.52M31.34 146.25L31.34 146.52M31.62 147.03L34.20 147.03M31.62 147.21L34.20 147.21M31.62 147.03L31.62 147.21M30.09 146.84L34.20 146.84M30.09 147.12L31.62 147.12M30.09 146.84L30.09 147.12M28.55 146.39L31.34 146.39M28.55 146.98L30.09 146.98M28.55 146.39L28.55 146.98M31.84 147.68L34.20 147.68M31.84 147.86L34.20 147.86M31.84 147.68L31.84 147.86M29.13 147.77L31.84 147.77M29.13 148.02L34.20 148.02M29.13 147.77L29.13 148.02M28.58 147.43L34.20 147.43M28.58 147.89L29.13 147.89M28.58 147.43L28.58 147.89M28.05 146.68L28.55 146.68M28.05 147.66L28.58 147.66M28.05 146.68L28.05 147.66M30.68 148.52L34.20 148.52M30.68 148.70L34.20 148.70M30.68 148.52L30.68 148.70M30.18 148.61L30.68 148.61M30.18 148.89L34.20 148.89M30.18 148.61L30.18 148.89M29.61 148.27L34.20 148.27M29.61 148.75L30.18 148.75M29.61 148.27L29.61 148.75M27.55 147.17L28.05 147.17M27.55 148.51L29.61 148.51M27.55 147.17L27.55 148.51M24.78 143.53L26.88 143.53M24.78 147.84L27.55 147.84M24.78 143.53L24.78 147.84M29.17 149.05L34.20 149.05M29.17 149.22L34.20 149.22M29.17 149.05L29.17 149.22M31.69 149.41L34.20 149.41M31.69 149.57L34.20 149.57M31.69 149.41L31.69 149.57M28.67 149.14L29.17 149.14M28.67 149.49L31.69 149.49M28.67 149.14L28.67 149.49M28.19 150.08L34.20 150.08M28.19 150.33L34.20 150.33M28.19 150.08L28.19 150.33M27.69 149.82L34.20 149.82M27.69 150.20L28.19 150.20M27.69 149.82L27.69 150.20M27.19 149.31L28.67 149.31M27.19 150.01L27.69 150.01M27.19 149.31L27.19 150.01M30.48 150.59L34.20 150.59M30.48 150.84L34.20 150.84M30.48 150.59L30.48 150.84M31.87 151.04L34.20 151.04M31.87 151.20L34.20 151.20M31.87 151.04L31.87 151.20M30.88 151.41L34.20 151.41M30.88 151.57L34.20 151.57M30.88 151.41L30.88 151.57M30.08 151.12L31.87 151.12M30.08 151.49L30.88 151.49M30.08 151.12L30.08 151.49M27.11 150.72L30.48 150.72M27.11 151.31L30.08 151.31M27.11 150.72L27.11 151.31M30.99 151.89L34.20 151.89M30.99 152.07L34.20 152.07M30.99 151.89L30.99 152.07M27.42 151.71L34.20 151.71M27.42 151.98L30.99 151.98M27.42 151.71L27.42 151.98M31.72 152.53L34.20 152.53M31.72 152.72L34.20 152.72M31.72 152.53L31.72 152.72M30.80 152.29L34.20 152.29M30.80 152.62L31.72 152.62M30.80 152.29L30.80 152.62M26.92 151.85L27.42 151.85M26.92 152.45L30.80 152.45M26.92 151.85L26.92 152.45M26.42 151.01L27.11 151.01M26.42 152.15L26.92 152.15M26.42 151.01L26.42 152.15M30.85 152.92L34.20 152.92M30.85 153.15L34.20 153.15M30.85 152.92L30.85 153.15M30.26 153.36L34.20 153.36M30.26 153.54L34.20 153.54M30.26 153.36L30.26 153.54M29.76 153.45L30.26 153.45M29.76 153.71L34.20 153.71M29.76 153.45L29.76 153.71M27.59 153.03L30.85 153.03M27.59 153.58L29.76 153.58M27.59 153.03L27.59 153.58M25.92 151.58L26.42 151.58M25.92 153.31L27.59 153.31M25.92 151.58L25.92 153.31M24.55 149.66L27.19 149.66M24.55 152.44L25.92 152.44M24.55 149.66L24.55 152.44M30.30 154.23L34.20 154.23M30.30 154.46L34.20 154.46M30.30 154.23L30.30 154.46M25.59 153.96L34.20 153.96M25.59 154.35L30.30 154.35M25.59 153.96L25.59 154.35M31.40 154.68L34.20 154.68M31.40 154.87L34.20 154.87M31.40 154.68L31.40 154.87M30.98 155.00L34.20 155.00M30.98 155.21L34.20 155.21M30.98 155.00L30.98 155.21M31.29 155.44L34.20 155.44M31.29 155.60L34.20 155.60M31.29 155.44L31.29 155.60M29.32 155.10L30.98 155.10M29.32 155.52L31.29 155.52M29.32 155.10L29.32 155.52M28.82 154.77L31.40 154.77M28.82 155.31L29.32 155.31M28.82 154.77L28.82 155.31M25.09 154.15L25.59 154.15M25.09 155.04L28.82 155.04M25.09 154.15L25.09 155.04M31.40 156.05L34.20 156.05M31.40 156.22L34.20 156.22M31.40 156.05L31.40 156.22M30.90 155.82L34.20 155.82M30.90 156.14L31.40 156.14M30.90 155.82L30.90 156.14M31.84 156.42L34.20 156.42M31.84 156.58L34.20 156.58M31.84 156.42L31.84 156.58M31.59 156.75L34.20 156.75M31.59 156.93L34.20 156.93M31.59 156.75L31.59 156.93M30.26 156.50L31.84 156.50M30.26 156.84L31.59 156.84M30.26 156.50L30.26 156.84M29.24 155.98L30.90 155.98M29.24 156.67L30.26 156.67M29.24 155.98L29.24 156.67M24.59 154.60L25.09 154.60M24.59 156.32L29.24 156.32M24.59 154.60L24.59 156.32M23.43 151.05L24.55 151.05M23.43 155.46L24.59 155.46M23.43 151.05L23.43 155.46M21.00 145.69L24.78 145.69M21.00 153.26L23.43 153.26M21.00 145.69L21.00 153.26M31.04 157.10L34.20 157.10M31.04 157.27L34.20 157.27M31.04 157.10L31.04 157.27M30.41 157.19L31.04 157.19M30.41 157.42L34.20 157.42M30.41 157.19L30.41 157.42M31.78 157.58L34.20 157.58M31.78 157.76L34.20 157.76M31.78 157.58L31.78 157.76M30.07 157.67L31.78 157.67M30.07 157.97L34.20 157.97M30.07 157.67L30.07 157.97M29.10 157.31L30.41 157.31M29.10 157.82L30.07 157.82M29.10 157.31L29.10 157.82M31.65 158.15L34.20 158.15M31.65 158.34L34.20 158.34M31.65 158.15L31.65 158.34M31.89 158.53L34.20 158.53M31.89 158.72L34.20 158.72M31.89 158.53L31.89 158.72M29.93 158.24L31.65 158.24M29.93 158.62L31.89 158.62M29.93 158.24L29.93 158.62M28.60 157.56L29.10 157.56M28.60 158.43L29.93 158.43M28.60 157.56L28.60 158.43M29.56 158.85L34.20 158.85M29.56 159.01L34.20 159.01M29.56 158.85L29.56 159.01M28.94 159.22L34.20 159.22M28.94 159.42L34.20 159.42M28.94 159.22L28.94 159.42M28.44 158.93L29.56 158.93M28.44 159.32L28.94 159.32M28.44 158.93L28.44 159.32M31.56 159.91L34.20 159.91M31.56 160.07L34.20 160.07M31.56 159.91L31.56 160.07M28.40 159.68L34.20 159.68M28.40 159.99L31.56 159.99M28.40 159.68L28.40 159.99M27.90 159.83L28.40 159.83M27.90 160.28L34.20 160.28M27.90 159.83L27.90 160.28M24.71 159.12L28.44 159.12M24.71 160.06L27.90 160.06M24.71 159.12L24.71 160.06M30.05 160.56L34.20 160.56M30.05 160.77L34.20 160.77M30.05 160.56L30.05 160.77M30.27 161.12L34.20 161.12M30.27 161.30L34.20 161.30M30.27 161.12L30.27 161.30M29.18 160.95L34.20 160.95M29.18 161.21L30.27 161.21M29.18 160.95L29.18 161.21M28.68 160.67L30.05 160.67M28.68 161.08L29.18 161.08M28.68 160.67L28.68 161.08M29.92 161.47L34.20 161.47M29.92 161.64L34.20 161.64M29.92 161.47L29.92 161.64M31.25 161.87L34.20 161.87M31.25 162.15L34.20 162.15M31.25 161.87L31.25 162.15M29.42 161.56L29.92 161.56M29.42 162.01L31.25 162.01M29.42 161.56L29.42 162.01M28.18 160.87L28.68 160.87M28.18 161.78L29.42 161.78M28.18 160.87L28.18 161.78M24.21 159.59L24.71 159.59M24.21 161.33L28.18 161.33M24.21 159.59L24.21 161.33M23.71 158.00L28.60 158.00M23.71 160.46L24.21 160.46M23.71 158.00L23.71 160.46M26.14 162.44L34.20 162.44M26.14 162.69L34.20 162.69M26.14 162.44L26.14 162.69M25.64 162.56L26.14 162.56M25.64 162.96L34.20 162.96M25.64 162.56L25.64 162.96M28.91 163.24L34.20 163.24M28.91 163.43L34.20 163.43M28.91 163.24L28.91 163.43M31.50 163.66L34.20 163.66M31.50 163.95L34.20 163.95M31.50 163.66L31.50 163.95M28.41 163.34L28.91 163.34M28.41 163.80L31.50 163.80M28.41 163.34L28.41 163.80M31.45 164.18L34.20 164.18M31.45 164.42L34.20 164.42M31.45 164.18L31.45 164.42M30.95 164.30L31.45 164.30M30.95 164.71L34.20 164.71M30.95 164.30L30.95 164.71M27.91 163.57L28.41 163.57M27.91 164.50L30.95 164.50M27.91 163.57L27.91 164.50M25.14 162.76L25.64 162.76M25.14 164.04L27.91 164.04M25.14 162.76L25.14 164.04M31.05 164.92L34.20 164.92M31.05 165.17L34.20 165.17M31.05 164.92L31.05 165.17M29.40 165.45L34.20 165.45M29.40 165.70L34.20 165.70M29.40 165.45L29.40 165.70M28.90 165.05L31.05 165.05M28.90 165.58L29.40 165.58M28.90 165.05L28.90 165.58M26.68 165.96L34.20 165.96M26.68 166.18L34.20 166.18M26.68 165.96L26.68 166.18M31.38 166.34L34.20 166.34M31.38 166.57L34.20 166.57M31.38 166.34L31.38 166.57M26.18 166.07L26.68 166.07M26.18 166.45L31.38 166.45M26.18 166.07L26.18 166.45M25.68 165.31L28.90 165.31M25.68 166.26L26.18 166.26M25.68 165.31L25.68 166.26M30.85 166.86L34.20 166.86M30.85 167.06L34.20 167.06M30.85 166.86L30.85 167.06M31.57 167.19L34.20 167.19M31.57 167.41L34.20 167.41M31.57 167.19L31.57 167.41M31.03 167.66L34.20 167.66M31.03 167.88L34.20 167.88M31.03 167.66L31.03 167.88M30.51 167.30L31.57 167.30M30.51 167.77L31.03 167.77M30.51 167.30L30.51 167.77M30.01 166.96L30.85 166.96M30.01 167.53L30.51 167.53M30.01 166.96L30.01 167.53M25.18 165.79L25.68 165.79M25.18 167.25L30.01 167.25M25.18 165.79L25.18 167.25M24.64 163.40L25.14 163.40M24.64 166.52L25.18 166.52M24.64 163.40L24.64 166.52M22.97 159.23L23.71 159.23M22.97 164.96L24.64 164.96M22.97 159.23L22.97 164.96M31.27 168.11L34.20 168.11M31.27 168.32L34.20 168.32M31.27 168.11L31.27 168.32M30.34 168.76L34.20 168.76M30.34 168.93L34.20 168.93M30.34 168.76L30.34 168.93M29.84 168.53L34.20 168.53M29.84 168.85L30.34 168.85M29.84 168.53L29.84 168.85M29.34 168.22L31.27 168.22M29.34 168.69L29.84 168.69M29.34 168.22L29.34 168.69M31.48 169.39L34.20 169.39M31.48 169.56L34.20 169.56M31.48 169.39L31.48 169.56M30.98 169.48L31.48 169.48M30.98 169.77L34.20 169.77M30.98 169.48L30.98 169.77M29.88 169.14L34.20 169.14M29.88 169.62L30.98 169.62M29.88 169.14L29.88 169.62M31.47 170.04L34.20 170.04M31.47 170.28L34.20 170.28M31.47 170.04L31.47 170.28M29.38 169.38L29.88 169.38M29.38 170.16L31.47 170.16M29.38 169.38L29.38 170.16M28.50 168.45L29.34 168.45M28.50 169.77L29.38 169.77M28.50 168.45L28.50 169.77M30.78 170.77L34.20 170.77M30.78 171.03L34.20 171.03M30.78 170.77L30.78 171.03M30.28 170.51L34.20 170.51M30.28 170.90L30.78 170.90M30.28 170.51L30.28 170.90M29.37 171.26L34.20 171.26M29.37 171.50L34.20 171.50M29.37 171.26L29.37 171.50M28.87 171.38L29.37 171.38M28.87 171.79L34.20 171.79M28.87 171.38L28.87 171.79M28.37 170.71L30.28 170.71M28.37 171.58L28.87 171.58M28.37 170.71L28.37 171.58M31.83 172.33L34.20 172.33M31.83 172.60L34.20 172.60M31.83 172.33L31.83 172.60M29.91 172.07L34.20 172.07M29.91 172.46L31.83 172.46M29.91 172.07L29.91 172.46M31.40 172.81L34.20 172.81M31.40 173.00L34.20 173.00M31.40 172.81L31.40 173.00M29.29 172.27L29.91 172.27M29.29 172.90L31.40 172.90M29.29 172.27L29.29 172.90M27.86 171.15L28.37 171.15M27.86 172.59L29.29 172.59M27.86 171.15L27.86 172.59M26.58 169.11L28.50 169.11M26.58 171.87L27.86 171.87M26.58 169.11L26.58 171.87M30.70 173.41L34.20 173.41M30.70 173.59L34.20 173.59M30.70 173.41L30.70 173.59M30.20 173.20L34.20 173.20M30.20 173.50L30.70 173.50M30.20 173.20L30.20 173.50M31.77 173.82L34.20 173.82M31.77 174.07L34.20 174.07M31.77 173.82L31.77 174.07M27.52 174.58L34.20 174.58M27.52 174.85L34.20 174.85M27.52 174.58L27.52 174.85M27.02 174.31L34.20 174.31M27.02 174.71L27.52 174.71M27.02 174.31L27.02 174.71M26.52 173.94L31.77 173.94M26.52 174.51L27.02 174.51M26.52 173.94L26.52 174.51M25.25 173.35L30.20 173.35M25.25 174.23L26.52 174.23M25.25 173.35L25.25 174.23M30.99 175.25L34.20 175.25M30.99 175.43L34.20 175.43M30.99 175.25L30.99 175.43M30.49 175.09L34.20 175.09M30.49 175.34L30.99 175.34M30.49 175.09L30.49 175.34M29.56 175.62L34.20 175.62M29.56 175.79L34.20 175.79M29.56 175.62L29.56 175.79M28.00 175.22L30.49 175.22M28.00 175.71L29.56 175.71M28.00 175.22L28.00 175.71M31.03 176.23L34.20 176.23M31.03 176.40L34.20 176.40M31.03 176.23L31.03 176.40M30.53 176.01L34.20 176.01M30.53 176.32L31.03 176.32M30.53 176.01L30.53 176.32M27.41 175.46L28.00 175.46M27.41 176.16L30.53 176.16M27.41 175.46L27.41 176.16M24.75 173.79L25.25 173.79M24.75 175.81L27.41 175.81M24.75 173.79L24.75 175.81M30.60 176.62L34.20 176.62M30.60 176.83L34.20 176.83M30.60 176.62L30.60 176.83M31.03 177.01L34.20 177.01M31.03 177.21L34.20 177.21M31.03 177.01L31.03 177.21M30.53 177.11L31.03 177.11M30.53 177.42L34.20 177.42M30.53 177.11L30.53 177.42M29.48 176.72L30.60 176.72M29.48 177.27L30.53 177.27M29.48 176.72L29.48 177.27M31.45 177.62L34.20 177.62M31.45 177.87L34.20 177.87M31.45 177.62L31.45 177.87M28.98 176.99L29.48 176.99M28.98 177.75L31.45 177.75M28.98 176.99L28.98 177.75M24.25 174.80L24.75 174.80M24.25 177.37L28.98 177.37M24.25 174.80L24.25 177.37M23.57 170.49L26.58 170.49M23.57 176.08L24.25 176.08M23.57 170.49L23.57 176.08M20.50 162.09L22.97 162.09M20.50 173.29L23.57 173.29M20.50 162.09L20.50 173.29M18.20 149.47L21.00 149.47M18.20 167.69L20.50 167.69M18.20 149.47L18.20 167.69M31.86 178.12L34.20 178.12M31.86 178.34L34.20 178.34M31.86 178.12L31.86 178.34M30.76 178.54L34.20 178.54M30.76 178.70L34.20 178.70M30.76 178.54L30.76 178.70M29.69 178.62L30.76 178.62M29.69 178.90L34.20 178.90M29.69 178.62L29.69 178.90M29.19 178.23L31.86 178.23M29.19 178.76L29.69 178.76M29.19 178.23L29.19 178.76M31.83 179.15L34.20 179.15M31.83 179.33L34.20 179.33M31.83 179.15L31.83 179.33M30.43 179.24L31.83 179.24M30.43 179.54L34.20 179.54M30.43 179.24L30.43 179.54M28.69 178.49L29.19 178.49M28.69 179.39L30.43 179.39M28.69 178.49L28.69 179.39M31.43 179.74L34.20 179.74M31.43 179.90L34.20 179.90M31.43 179.74L31.43 179.90M30.26 180.12L34.20 180.12M30.26 180.34L34.20 180.34M30.26 180.12L30.26 180.34M29.76 180.23L30.26 180.23M29.76 180.55L34.20 180.55M29.76 180.23L29.76 180.55M29.26 179.82L31.43 179.82M29.26 180.39L29.76 180.39M29.26 179.82L29.26 180.39M26.92 178.94L28.69 178.94M26.92 180.11L29.26 180.11M26.92 178.94L26.92 180.11M31.12 180.77L34.20 180.77M31.12 180.99L34.20 180.99M31.12 180.77L31.12 180.99M30.05 180.88L31.12 180.88M30.05 181.26L34.20 181.26M30.05 180.88L30.05 181.26M28.77 181.07L30.05 181.07M28.77 181.56L34.20 181.56M28.77 181.07L28.77 181.56M32.02 181.82L34.20 181.82M32.02 182.05L34.20 182.05M32.02 181.82L32.02 182.05M32.06 182.29L34.20 182.29M32.06 182.49L34.20 182.49M32.06 182.29L32.06 182.49M30.10 181.93L32.02 181.93M30.10 182.39L32.06 182.39M30.10 181.93L30.10 182.39M30.52 182.64L34.20 182.64M30.52 182.83L34.20 182.83M30.52 182.64L30.52 182.83M29.60 182.16L30.10 182.16M29.60 182.73L30.52 182.73M29.60 182.16L29.60 182.73M28.27 181.31L28.77 181.31M28.27 182.45L29.60 182.45M28.27 181.31L28.27 182.45M30.18 183.08L34.20 183.08M30.18 183.37L34.20 183.37M30.18 183.08L30.18 183.37M29.68 183.22L30.18 183.22M29.68 183.66L34.20 183.66M29.68 183.22L29.68 183.66M30.66 184.28L34.20 184.28M30.66 184.51L34.20 184.51M30.66 184.28L30.66 184.51M30.16 183.96L34.20 183.96M30.16 184.39L30.66 184.39M30.16 183.96L30.16 184.39M29.18 183.44L29.68 183.44M29.18 184.18L30.16 184.18M29.18 183.44L29.18 184.18M27.09 181.88L28.27 181.88M27.09 183.81L29.18 183.81M27.09 181.88L27.09 183.81M25.37 179.52L26.92 179.52M25.37 182.84L27.09 182.84M25.37 179.52L25.37 182.84M31.89 184.74L34.20 184.74M31.89 184.99L34.20 184.99M31.89 184.74L31.89 184.99M31.80 185.45L34.20 185.45M31.80 185.71L34.20 185.71M31.80 185.45L31.80 185.71M31.28 185.19L34.20 185.19M31.28 185.58L31.80 185.58M31.28 185.19L31.28 185.58M28.58 184.86L31.89 184.86M28.58 185.39L31.28 185.39M28.58 184.86L28.58 185.39M30.38 186.10L34.20 186.10M30.38 186.28L34.20 186.28M30.38 186.10L30.38 186.28M29.88 185.92L34.20 185.92M29.88 186.19L30.38 186.19M29.88 185.92L29.88 186.19M30.22 186.46L34.20 186.46M30.22 186.67L34.20 186.67M30.22 186.46L30.22 186.67M32.15 186.87L34.20 186.87M32.15 187.04L34.20 187.04M32.15 186.87L32.15 187.04M29.72 186.57L30.22 186.57M29.72 186.95L32.15 186.95M29.72 186.57L29.72 186.95M29.22 186.06L29.88 186.06M29.22 186.76L29.72 186.76M29.22 186.06L29.22 186.76M30.89 187.23L34.20 187.23M30.89 187.42L34.20 187.42M30.89 187.23L30.89 187.42M30.39 187.32L30.89 187.32M30.39 187.61L34.20 187.61M30.39 187.32L30.39 187.61M29.71 187.47L30.39 187.47M29.71 187.85L34.20 187.85M29.71 187.47L29.71 187.85M28.72 186.41L29.22 186.41M28.72 187.66L29.71 187.66M28.72 186.41L28.72 187.66M28.08 185.13L28.58 185.13M28.08 187.03L28.72 187.03M28.08 185.13L28.08 187.03M24.39 181.18L25.37 181.18M24.39 186.08L28.08 186.08M24.39 181.18L24.39 186.08M29.92 188.14L34.20 188.14M29.92 188.36L34.20 188.36M29.92 188.14L29.92 188.36M32.01 188.78L34.20 188.78M32.01 188.97L34.20 188.97M32.01 188.78L32.01 188.97M26.66 188.59L34.20 188.59M26.66 188.88L32.01 188.88M26.66 188.59L26.66 188.88M26.16 188.25L29.92 188.25M26.16 188.73L26.66 188.73M26.16 188.25L26.16 188.73M30.93 189.17L34.20 189.17M30.93 189.36L34.20 189.36M30.93 189.17L30.93 189.36M30.26 189.63L34.20 189.63M30.26 189.84L34.20 189.84M30.26 189.63L30.26 189.84M29.76 189.74L30.26 189.74M29.76 190.01L34.20 190.01M29.76 189.74L29.76 190.01M29.26 189.27L30.93 189.27M29.26 189.87L29.76 189.87M29.26 189.27L29.26 189.87M25.66 188.49L26.16 188.49M25.66 189.57L29.26 189.57M25.66 188.49L25.66 189.57M31.13 190.17L34.20 190.17M31.13 190.35L34.20 190.35M31.13 190.17L31.13 190.35M31.59 190.56L34.20 190.56M31.59 190.73L34.20 190.73M31.59 190.56L31.59 190.73M27.01 190.26L31.13 190.26M27.01 190.64L31.59 190.64M27.01 190.26L27.01 190.64M31.88 191.44L34.20 191.44M31.88 191.61L34.20 191.61M31.88 191.44L31.88 191.61M30.34 191.21L34.20 191.21M30.34 191.52L31.88 191.52M30.34 191.21L30.34 191.52M29.84 190.94L34.20 190.94M29.84 191.37L30.34 191.37M29.84 190.94L29.84 191.37M26.51 190.45L27.01 190.45M26.51 191.16L29.84 191.16M26.51 190.45L26.51 191.16M31.89 191.77L34.20 191.77M31.89 191.96L34.20 191.96M31.89 191.77L31.89 191.96M30.15 192.19L34.20 192.19M30.15 192.41L34.20 192.41M30.15 192.19L30.15 192.41M28.88 191.87L31.89 191.87M28.88 192.30L30.15 192.30M28.88 191.87L28.88 192.30M30.17 192.64L34.20 192.64M30.17 192.85L34.20 192.85M30.17 192.64L30.17 192.85M29.67 192.75L30.17 192.75M29.67 193.07L34.20 193.07M29.67 192.75L29.67 193.07M30.39 193.30L34.20 193.30M30.39 193.47L34.20 193.47M30.39 193.30L30.39 193.47M29.06 193.61L34.20 193.61M29.06 193.79L34.20 193.79M29.06 193.61L29.06 193.79M28.56 193.38L30.39 193.38M28.56 193.70L29.06 193.70M28.56 193.38L28.56 193.70M28.06 192.91L29.67 192.91M28.06 193.54L28.56 193.54M28.06 192.91L28.06 193.54M27.56 192.08L28.88 192.08M27.56 193.23L28.06 193.23M27.56 192.08L27.56 193.23M26.01 190.80L26.51 190.80M26.01 192.65L27.56 192.65M26.01 190.80L26.01 192.65M23.76 189.03L25.66 189.03M23.76 191.73L26.01 191.73M23.76 189.03L23.76 191.73M31.33 194.17L34.20 194.17M31.33 194.34L34.20 194.34M31.33 194.17L31.33 194.34M30.06 193.99L34.20 193.99M30.06 194.26L31.33 194.26M30.06 193.99L30.06 194.26M28.11 194.12L30.06 194.12M28.11 194.57L34.20 194.57M28.11 194.12L28.11 194.57M30.38 194.79L34.20 194.79M30.38 195.02L34.20 195.02M30.38 194.79L30.38 195.02M31.33 195.24L34.20 195.24M31.33 195.46L34.20 195.46M31.33 195.24L31.33 195.46M31.30 195.67L34.20 195.67M31.30 195.89L34.20 195.89M31.30 195.67L31.30 195.89M29.46 195.35L31.33 195.35M29.46 195.78L31.30 195.78M29.46 195.35L29.46 195.78M28.96 194.90L30.38 194.90M28.96 195.57L29.46 195.57M28.96 194.90L28.96 195.57M27.61 194.35L28.11 194.35M27.61 195.23L28.96 195.23M27.61 194.35L27.61 195.23M31.06 196.11L34.20 196.11M31.06 196.28L34.20 196.28M31.06 196.11L31.06 196.28M30.33 196.49L34.20 196.49M30.33 196.69L34.20 196.69M30.33 196.49L30.33 196.69M29.83 196.20L31.06 196.20M29.83 196.59L30.33 196.59M29.83 196.20L29.83 196.59M31.22 196.83L34.20 196.83M31.22 197.04L34.20 197.04M31.22 196.83L31.22 197.04M30.72 196.93L31.22 196.93M30.72 197.28L34.20 197.28M30.72 196.93L30.72 197.28M30.44 197.48L34.20 197.48M30.44 197.71L34.20 197.71M30.44 197.48L30.44 197.71M29.01 197.59L30.44 197.59M29.01 197.94L34.20 197.94M29.01 197.59L29.01 197.94M28.51 197.11L30.72 197.11M28.51 197.77L29.01 197.77M28.51 197.11L28.51 197.77M28.01 196.39L29.83 196.39M28.01 197.44L28.51 197.44M28.01 196.39L28.01 197.44M22.79 194.79L27.61 194.79M22.79 196.91L28.01 196.91M22.79 194.79L22.79 196.91M30.03 198.11L34.20 198.11M30.03 198.30L34.20 198.30M30.03 198.11L30.03 198.30M29.53 198.21L30.03 198.21M29.53 198.54L34.20 198.54M29.53 198.21L29.53 198.54M31.30 198.73L34.20 198.73M31.30 198.92L34.20 198.92M31.30 198.73L31.30 198.92M29.03 198.37L29.53 198.37M29.03 198.82L31.30 198.82M29.03 198.37L29.03 198.82M31.44 199.16L34.20 199.16M31.44 199.42L34.20 199.42M31.44 199.16L31.44 199.42M30.38 199.68L34.20 199.68M30.38 199.90L34.20 199.90M30.38 199.68L30.38 199.90M29.88 199.29L31.44 199.29M29.88 199.79L30.38 199.79M29.88 199.29L29.88 199.79M23.73 198.60L29.03 198.60M23.73 199.54L29.88 199.54M23.73 198.60L23.73 199.54M22.29 195.85L22.79 195.85M22.29 199.07L23.73 199.07M22.29 195.85L22.29 199.07M21.79 190.38L23.76 190.38M21.79 197.46L22.29 197.46M21.79 190.38L21.79 197.46M21.29 183.63L24.39 183.63M21.29 193.92L21.79 193.92M21.29 183.63L21.29 193.92M31.27 200.12L34.20 200.12M31.27 200.34L34.20 200.34M31.27 200.12L31.27 200.34M31.50 200.53L34.20 200.53M31.50 200.69L34.20 200.69M31.50 200.53L31.50 200.69M29.55 200.89L34.20 200.89M29.55 201.16L34.20 201.16M29.55 200.89L29.55 201.16M29.05 200.61L31.50 200.61M29.05 201.02L29.55 201.02M29.05 200.61L29.05 201.02M28.55 200.23L31.27 200.23M28.55 200.82L29.05 200.82M28.55 200.23L28.55 200.82M30.58 201.45L34.20 201.45M30.58 201.72L34.20 201.72M30.58 201.45L30.58 201.72M30.08 201.58L30.58 201.58M30.08 202.00L34.20 202.00M30.08 201.58L30.08 202.00M30.40 202.29L34.20 202.29M30.40 202.50L34.20 202.50M30.40 202.29L30.40 202.50M31.08 202.71L34.20 202.71M31.08 203.00L34.20 203.00M31.08 202.71L31.08 203.00M29.90 202.39L30.40 202.39M29.90 202.85L31.08 202.85M29.90 202.39L29.90 202.85M28.96 201.79L30.08 201.79M28.96 202.62L29.90 202.62M28.96 201.79L28.96 202.62M27.47 200.52L28.55 200.52M27.47 202.21L28.96 202.21M27.47 200.52L27.47 202.21M31.83 203.24L34.20 203.24M31.83 203.41L34.20 203.41M31.83 203.24L31.83 203.41M31.33 203.32L31.83 203.32M31.33 203.61L34.20 203.61M31.33 203.32L31.33 203.61M30.54 203.84L34.20 203.84M30.54 204.00L34.20 204.00M30.54 203.84L30.54 204.00M30.04 203.47L31.33 203.47M30.04 203.92L30.54 203.92M30.04 203.47L30.04 203.92M32.19 204.14L34.20 204.14M32.19 204.31L34.20 204.31M32.19 204.14L32.19 204.31M30.98 204.50L34.20 204.50M30.98 204.69L34.20 204.69M30.98 204.50L30.98 204.69M30.96 204.87L34.20 204.87M30.96 205.09L34.20 205.09M30.96 204.87L30.96 205.09M30.46 204.59L30.98 204.59M30.46 204.98L30.96 204.98M30.46 204.59L30.46 204.98M29.96 204.23L32.19 204.23M29.96 204.79L30.46 204.79M29.96 204.23L29.96 204.79M29.46 203.69L30.04 203.69M29.46 204.51L29.96 204.51M29.46 203.69L29.46 204.51M30.80 205.35L34.20 205.35M30.80 205.60L34.20 205.60M30.80 205.35L30.80 205.60M30.41 205.79L34.20 205.79M30.41 206.01L34.20 206.01M30.41 205.79L30.41 206.01M28.21 205.48L30.80 205.48M28.21 205.90L30.41 205.90M28.21 205.48L28.21 205.90M27.71 204.10L29.46 204.10M27.71 205.69L28.21 205.69M27.71 204.10L27.71 205.69M24.90 201.37L27.47 201.37M24.90 204.89L27.71 204.89M24.90 201.37L24.90 204.89M30.22 206.21L34.20 206.21M30.22 206.43L34.20 206.43M30.22 206.21L30.22 206.43M27.12 206.32L30.22 206.32M27.12 206.69L34.20 206.69M27.12 206.32L27.12 206.69M32.14 206.91L34.20 206.91M32.14 207.12L34.20 207.12M32.14 206.91L32.14 207.12M30.94 207.34L34.20 207.34M30.94 207.56L34.20 207.56M30.94 207.34L30.94 207.56M30.44 207.02L32.14 207.02M30.44 207.45L30.94 207.45M30.44 207.02L30.44 207.45M26.62 206.51L27.12 206.51M26.62 207.23L30.44 207.23M26.62 206.51L26.62 207.23M31.30 207.76L34.20 207.76M31.30 207.96L34.20 207.96M31.30 207.76L31.30 207.96M30.20 207.86L31.30 207.86M30.20 208.23L34.20 208.23M30.20 207.86L30.20 208.23M31.43 208.48L34.20 208.48M31.43 208.68L34.20 208.68M31.43 208.48L31.43 208.68M30.93 208.58L31.43 208.58M30.93 208.89L34.20 208.89M30.93 208.58L30.93 208.89M29.66 208.04L30.20 208.04M29.66 208.74L30.93 208.74M29.66 208.04L29.66 208.74M26.12 206.87L26.62 206.87M26.12 208.39L29.66 208.39M26.12 206.87L26.12 208.39M23.45 203.13L24.90 203.13M23.45 207.63L26.12 207.63M23.45 203.13L23.45 207.63M30.91 209.11L34.20 209.11M30.91 209.32L34.20 209.32M30.91 209.11L30.91 209.32M30.26 209.21L30.91 209.21M30.26 209.53L34.20 209.53M30.26 209.21L30.26 209.53M24.70 209.77L34.20 209.77M24.70 210.01L34.20 210.01M24.70 209.77L24.70 210.01M24.20 209.37L30.26 209.37M24.20 209.89L24.70 209.89M24.20 209.37L24.20 209.89M31.15 210.19L34.20 210.19M31.15 210.38L34.20 210.38M31.15 210.19L31.15 210.38M27.92 210.28L31.15 210.28M27.92 210.63L34.20 210.63M27.92 210.28L27.92 210.63M23.70 209.63L24.20 209.63M23.70 210.46L27.92 210.46M23.70 209.63L23.70 210.46M31.12 211.22L34.20 211.22M31.12 211.44L34.20 211.44M31.12 211.22L31.12 211.44M30.62 210.92L34.20 210.92M30.62 211.33L31.12 211.33M30.62 210.92L30.62 211.33M31.19 211.58L34.20 211.58M31.19 211.80L34.20 211.80M31.19 211.58L31.19 211.80M30.81 212.07L34.20 212.07M30.81 212.28L34.20 212.28M30.81 212.07L30.81 212.28M30.46 212.44L34.20 212.44M30.46 212.61L34.20 212.61M30.46 212.44L30.46 212.61M29.96 212.17L30.81 212.17M29.96 212.52L30.46 212.52M29.96 212.17L29.96 212.52M29.46 211.69L31.19 211.69M29.46 212.35L29.96 212.35M29.46 211.69L29.46 212.35M28.96 211.13L30.62 211.13M28.96 212.02L29.46 212.02M28.96 211.13L28.96 212.02M30.94 212.80L34.20 212.80M30.94 212.96L34.20 212.96M30.94 212.80L30.94 212.96M30.28 213.12L34.20 213.12M30.28 213.32L34.20 213.32M30.28 213.12L30.28 213.32M29.78 212.88L30.94 212.88M29.78 213.22L30.28 213.22M29.78 212.88L29.78 213.22M30.85 213.56L34.20 213.56M30.85 213.74L34.20 213.74M30.85 213.56L30.85 213.74M29.28 213.05L29.78 213.05M29.28 213.65L30.85 213.65M29.28 213.05L29.28 213.65M28.30 211.57L28.96 211.57M28.30 213.35L29.28 213.35M28.30 211.57L28.30 213.35M23.20 210.04L23.70 210.04M23.20 212.46L28.30 212.46M23.20 210.04L23.20 212.46M31.51 213.91L34.20 213.91M31.51 214.12L34.20 214.12M31.51 213.91L31.51 214.12M30.37 214.58L34.20 214.58M30.37 214.76L34.20 214.76M30.37 214.58L30.37 214.76M29.87 214.36L34.20 214.36M29.87 214.67L30.37 214.67M29.87 214.36L29.87 214.67M29.37 214.01L31.51 214.01M29.37 214.52L29.87 214.52M29.37 214.01L29.37 214.52M29.17 214.96L34.20 214.96M29.17 215.19L34.20 215.19M29.17 214.96L29.17 215.19M28.67 215.07L29.17 215.07M28.67 215.46L34.20 215.46M28.67 215.07L28.67 215.46M30.75 215.65L34.20 215.65M30.75 215.84L34.20 215.84M30.75 215.65L30.75 215.84M30.95 216.06L34.20 216.06M30.95 216.30L34.20 216.30M30.95 216.06L30.95 216.30M29.86 215.75L30.75 215.75M29.86 216.18L30.95 216.18M29.86 215.75L29.86 216.18M28.17 215.26L28.67 215.26M28.17 215.96L29.86 215.96M28.17 215.26L28.17 215.96M27.67 214.26L29.37 214.26M27.67 215.61L28.17 215.61M27.67 214.26L27.67 215.61M30.72 216.55L34.20 216.55M30.72 216.72L34.20 216.72M30.72 216.55L30.72 216.72M28.59 216.88L34.20 216.88M28.59 217.09L34.20 217.09M28.59 216.88L28.59 217.09M27.70 216.63L30.72 216.63M27.70 216.98L28.59 216.98M27.70 216.63L27.70 216.98M29.62 217.35L34.20 217.35M29.62 217.58L34.20 217.58M29.62 217.35L29.62 217.58M27.20 216.81L27.70 216.81M27.20 217.46L29.62 217.46M27.20 216.81L27.20 217.46M26.70 214.94L27.67 214.94M26.70 217.14L27.20 217.14M26.70 214.94L26.70 217.14M31.42 217.79L34.20 217.79M31.42 218.02L34.20 218.02M31.42 217.79L31.42 218.02M30.68 218.24L34.20 218.24M30.68 218.45L34.20 218.45M30.68 218.24L30.68 218.45M30.07 217.91L31.42 217.91M30.07 218.35L30.68 218.35M30.07 217.91L30.07 218.35M31.02 219.20L34.20 219.20M31.02 219.38L34.20 219.38M31.02 219.20L31.02 219.38M29.72 219.02L34.20 219.02M29.72 219.29L31.02 219.29M29.72 219.02L29.72 219.29M29.22 218.73L34.20 218.73M29.22 219.15L29.72 219.15M29.22 218.73L29.22 219.15M30.49 219.60L34.20 219.60M30.49 219.77L34.20 219.77M30.49 219.60L30.49 219.77M29.99 219.68L30.49 219.68M29.99 219.91L34.20 219.91M29.99 219.68L29.99 219.91M28.72 218.94L29.22 218.94M28.72 219.80L29.99 219.80M28.72 218.94L28.72 219.80M28.22 218.13L30.07 218.13M28.22 219.37L28.72 219.37M28.22 218.13L28.22 219.37M25.37 216.04L26.70 216.04M25.37 218.75L28.22 218.75M25.37 216.04L25.37 218.75M22.70 211.25L23.20 211.25M22.70 217.39L25.37 217.39M22.70 211.25L22.70 217.39M21.50 205.38L23.45 205.38M21.50 214.32L22.70 214.32M21.50 205.38L21.50 214.32M30.45 220.28L34.20 220.28M30.45 220.48L34.20 220.48M30.45 220.28L30.45 220.48M29.71 220.09L34.20 220.09M29.71 220.38L30.45 220.38M29.71 220.09L29.71 220.38M29.21 220.24L29.71 220.24M29.21 220.75L34.20 220.75M29.21 220.24L29.21 220.75M28.63 221.00L34.20 221.00M28.63 221.17L34.20 221.17M28.63 221.00L28.63 221.17M28.13 221.08L28.63 221.08M28.13 221.39L34.20 221.39M28.13 221.08L28.13 221.39M28.11 221.69L34.20 221.69M28.11 221.95L34.20 221.95M28.11 221.69L28.11 221.95M27.61 221.23L28.13 221.23M27.61 221.82L28.11 221.82M27.61 221.23L27.61 221.82M27.11 220.49L29.21 220.49M27.11 221.53L27.61 221.53M27.11 220.49L27.11 221.53M30.23 222.19L34.20 222.19M30.23 222.44L34.20 222.44M30.23 222.19L30.23 222.44M29.73 222.32L30.23 222.32M29.73 222.70L34.20 222.70M29.73 222.32L29.73 222.70M30.41 223.24L34.20 223.24M30.41 223.42L34.20 223.42M30.41 223.24L30.41 223.42M29.91 223.00L34.20 223.00M29.91 223.33L30.41 223.33M29.91 223.00L29.91 223.33M28.71 222.51L29.73 222.51M28.71 223.17L29.91 223.17M28.71 222.51L28.71 223.17M26.61 221.01L27.11 221.01M26.61 222.84L28.71 222.84M26.61 221.01L26.61 222.84M30.94 223.67L34.20 223.67M30.94 223.97L34.20 223.97M30.94 223.67L30.94 223.97M30.68 224.49L34.20 224.49M30.68 224.70L34.20 224.70M30.68 224.49L30.68 224.70M29.80 224.24L34.20 224.24M29.80 224.59L30.68 224.59M29.80 224.24L29.80 224.59M29.17 223.82L30.94 223.82M29.17 224.42L29.80 224.42M29.17 223.82L29.17 224.42M29.28 225.08L34.20 225.08M29.28 225.26L34.20 225.26M29.28 225.08L29.28 225.26M28.78 224.90L34.20 224.90M28.78 225.17L29.28 225.17M28.78 224.90L28.78 225.17M28.28 225.03L28.78 225.03M28.28 225.50L34.20 225.50M28.28 225.03L28.28 225.50M27.78 224.12L29.17 224.12M27.78 225.26L28.28 225.26M27.78 224.12L27.78 225.26M31.79 225.72L34.20 225.72M31.79 225.93L34.20 225.93M31.79 225.72L31.79 225.93M30.14 225.83L31.79 225.83M30.14 226.16L34.20 226.16M30.14 225.83L30.14 226.16M31.08 226.39L34.20 226.39M31.08 226.60L34.20 226.60M31.08 226.39L31.08 226.60M30.12 226.50L31.08 226.50M30.12 226.84L34.20 226.84M30.12 226.50L30.12 226.84M29.62 226.00L30.14 226.00M29.62 226.67L30.12 226.67M29.62 226.00L29.62 226.67M30.57 227.34L34.20 227.34M30.57 227.54L34.20 227.54M30.57 227.34L30.57 227.54M29.69 227.10L34.20 227.10M29.69 227.44L30.57 227.44M29.69 227.10L29.69 227.44M30.85 227.72L34.20 227.72M30.85 227.91L34.20 227.91M30.85 227.72L30.85 227.91M29.00 227.27L29.69 227.27M29.00 227.82L30.85 227.82M29.00 227.27L29.00 227.82M27.31 226.33L29.62 226.33M27.31 227.54L29.00 227.54M27.31 226.33L27.31 227.54M26.81 224.69L27.78 224.69M26.81 226.94L27.31 226.94M26.81 224.69L26.81 226.94M24.56 221.92L26.61 221.92M24.56 225.82L26.81 225.82M24.56 221.92L24.56 225.82M30.13 228.17L34.20 228.17M30.13 228.47L34.20 228.47M30.13 228.17L30.13 228.47M32.06 228.90L34.20 228.90M32.06 229.10L34.20 229.10M32.06 228.90L32.06 229.10M31.56 228.70L34.20 228.70M31.56 229.00L32.06 229.00M31.56 228.70L31.56 229.00M31.62 229.56L34.20 229.56M31.62 229.76L34.20 229.76M31.62 229.56L31.62 229.76M30.32 229.32L34.20 229.32M30.32 229.66L31.62 229.66M30.32 229.32L30.32 229.66M29.48 228.85L31.56 228.85M29.48 229.49L30.32 229.49M29.48 228.85L29.48 229.49M28.98 228.32L30.13 228.32M28.98 229.17L29.48 229.17M28.98 228.32L28.98 229.17M30.78 229.94L34.20 229.94M30.78 230.19L34.20 230.19M30.78 229.94L30.78 230.19M31.87 230.41L34.20 230.41M31.87 230.59L34.20 230.59M31.87 230.41L31.87 230.59M27.97 230.07L30.78 230.07M27.97 230.50L31.87 230.50M27.97 230.07L27.97 230.50M30.66 230.79L34.20 230.79M30.66 231.02L34.20 231.02M30.66 230.79L30.66 231.02M30.45 231.22L34.20 231.22M30.45 231.38L34.20 231.38M30.45 231.22L30.45 231.38M29.95 230.90L30.66 230.90M29.95 231.30L30.45 231.30M29.95 230.90L29.95 231.30M29.94 231.78L34.20 231.78M29.94 232.00L34.20 232.00M29.94 231.78L29.94 232.00M29.44 231.58L34.20 231.58M29.44 231.89L29.94 231.89M29.44 231.58L29.44 231.89M28.94 231.10L29.95 231.10M28.94 231.73L29.44 231.73M28.94 231.10L28.94 231.73M27.47 230.28L27.97 230.28M27.47 231.42L28.94 231.42M27.47 230.28L27.47 231.42M31.53 232.24L34.20 232.24M31.53 232.44L34.20 232.44M31.53 232.24L31.53 232.44M30.27 232.34L31.53 232.34M30.27 232.69L34.20 232.69M30.27 232.34L30.27 232.69M29.77 232.98L34.20 232.98M29.77 233.17L34.20 233.17M29.77 232.98L29.77 233.17M29.27 232.52L30.27 232.52M29.27 233.07L29.77 233.07M29.27 232.52L29.27 233.07M31.11 233.32L34.20 233.32M31.11 233.52L34.20 233.52M31.11 233.32L31.11 233.52M31.97 233.76L34.20 233.76M31.97 233.94L34.20 233.94M31.97 233.76L31.97 233.94M30.28 233.42L31.11 233.42M30.28 233.85L31.97 233.85M30.28 233.42L30.28 233.85M28.34 232.80L29.27 232.80M28.34 233.64L30.28 233.64M28.34 232.80L28.34 233.64M26.97 230.85L27.47 230.85M26.97 233.22L28.34 233.22M26.97 230.85L26.97 233.22M26.47 228.74L28.98 228.74M26.47 232.03L26.97 232.03M26.47 228.74L26.47 232.03M22.53 223.87L24.56 223.87M22.53 230.39L26.47 230.39M22.53 223.87L22.53 230.39M30.07 234.42L34.20 234.42M30.07 234.73L34.20 234.73M30.07 234.42L30.07 234.73M29.57 234.14L34.20 234.14M29.57 234.58L30.07 234.58M29.57 234.14L29.57 234.58M30.52 235.04L34.20 235.04M30.52 235.31L34.20 235.31M30.52 235.04L30.52 235.31M30.32 235.53L34.20 235.53M30.32 235.75L34.20 235.75M30.32 235.53L30.32 235.75M28.33 235.64L30.32 235.64M28.33 236.00L34.20 236.00M28.33 235.64L28.33 236.00M27.83 235.17L30.52 235.17M27.83 235.82L28.33 235.82M27.83 235.17L27.83 235.82M27.33 234.36L29.57 234.36M27.33 235.50L27.83 235.50M27.33 234.36L27.33 235.50M30.40 236.20L34.20 236.20M30.40 236.40L34.20 236.40M30.40 236.20L30.40 236.40M29.99 236.68L34.20 236.68M29.99 236.98L34.20 236.98M29.99 236.68L29.99 236.98M29.49 236.30L30.40 236.30M29.49 236.83L29.99 236.83M29.49 236.30L29.49 236.83M26.83 234.93L27.33 234.93M26.83 236.56L29.49 236.56M26.83 234.93L26.83 236.56M30.49 237.21L34.20 237.21M30.49 237.43L34.20 237.43M30.49 237.21L30.49 237.43M29.95 237.32L30.49 237.32M29.95 237.69L34.20 237.69M29.95 237.32L29.95 237.69M29.64 237.98L34.20 237.98M29.64 238.24L34.20 238.24M29.64 237.98L29.64 238.24M24.51 237.51L29.95 237.51M24.51 238.11L29.64 238.11M24.51 237.51L24.51 238.11M28.96 238.48L34.20 238.48M28.96 238.70L34.20 238.70M28.96 238.48L28.96 238.70M31.27 238.94L34.20 238.94M31.27 239.16L34.20 239.16M31.27 238.94L31.27 239.16M30.40 239.40L34.20 239.40M30.40 239.64L34.20 239.64M30.40 239.40L30.40 239.64M29.90 239.05L31.27 239.05M29.90 239.52L30.40 239.52M29.90 239.05L29.90 239.52M28.46 238.59L28.96 238.59M28.46 239.29L29.90 239.29M28.46 238.59L28.46 239.29M24.01 237.81L24.51 237.81M24.01 238.94L28.46 238.94M24.01 237.81L24.01 238.94M23.51 235.75L26.83 235.75M23.51 238.37L24.01 238.37M23.51 235.75L23.51 238.37M32.01 240.02L34.20 240.02M32.01 240.23L34.20 240.23M32.01 240.02L32.01 240.23M30.96 239.84L34.20 239.84M30.96 240.13L32.01 240.13M30.96 239.84L30.96 240.13M29.69 239.98L30.96 239.98M29.69 240.53L34.20 240.53M29.69 239.98L29.69 240.53M30.35 240.99L34.20 240.99M30.35 241.16L34.20 241.16M30.35 240.99L30.35 241.16M28.00 240.79L34.20 240.79M28.00 241.07L30.35 241.07M28.00 240.79L28.00 241.07M27.25 240.25L29.69 240.25M27.25 240.93L28.00 240.93M27.25 240.25L27.25 240.93M31.64 241.34L34.20 241.34M31.64 241.50L34.20 241.50M31.64 241.34L31.64 241.50M31.13 241.42L31.64 241.42M31.13 241.65L34.20 241.65M31.13 241.42L31.13 241.65M27.98 242.13L34.20 242.13M27.98 242.35L34.20 242.35M27.98 242.13L27.98 242.35M27.48 241.86L34.20 241.86M27.48 242.24L27.98 242.24M27.48 241.86L27.48 242.24M26.98 241.53L31.13 241.53M26.98 242.05L27.48 242.05M26.98 241.53L26.98 242.05M29.17 242.51L34.20 242.51M29.17 242.73L34.20 242.73M29.17 242.51L29.17 242.73M28.67 242.62L29.17 242.62M28.67 243.02L34.20 243.02M28.67 242.62L28.67 243.02M26.48 241.79L26.98 241.79M26.48 242.82L28.67 242.82M26.48 241.79L26.48 242.82M25.98 240.59L27.25 240.59M25.98 242.31L26.48 242.31M25.98 240.59L25.98 242.31M23.01 237.06L23.51 237.06M23.01 241.45L25.98 241.45M23.01 237.06L23.01 241.45M30.27 243.56L34.20 243.56M30.27 243.74L34.20 243.74M30.27 243.56L30.27 243.74M29.41 243.33L34.20 243.33M29.41 243.65L30.27 243.65M29.41 243.33L29.41 243.65M31.40 244.16L34.20 244.16M31.40 244.33L34.20 244.33M31.40 244.16L31.40 244.33M30.49 243.97L34.20 243.97M30.49 244.24L31.40 244.24M30.49 243.97L30.49 244.24M28.24 244.10L30.49 244.10M28.24 244.56L34.20 244.56M28.24 244.10L28.24 244.56M27.74 243.49L29.41 243.49M27.74 244.33L28.24 244.33M27.74 243.49L27.74 244.33M31.12 244.78L34.20 244.78M31.12 244.94L34.20 244.94M31.12 244.78L31.12 244.94M30.62 244.86L31.12 244.86M30.62 245.12L34.20 245.12M30.62 244.86L30.62 245.12M30.12 244.99L30.62 244.99M30.12 245.35L34.20 245.35M30.12 244.99L30.12 245.35M27.24 243.91L27.74 243.91M27.24 245.17L30.12 245.17M27.24 243.91L27.24 245.17M31.20 245.56L34.20 245.56M31.20 245.77L34.20 245.77M31.20 245.56L31.20 245.77M30.70 245.67L31.20 245.67M30.70 246.02L34.20 246.02M30.70 245.67L30.70 246.02M30.69 246.27L34.20 246.27M30.69 246.52L34.20 246.52M30.69 246.27L30.69 246.52M29.75 245.84L30.70 245.84M29.75 246.39L30.69 246.39M29.75 245.84L29.75 246.39M27.85 246.74L34.20 246.74M27.85 246.93L34.20 246.93M27.85 246.74L27.85 246.93M31.11 247.12L34.20 247.12M31.11 247.30L34.20 247.30M31.11 247.12L31.11 247.30M27.35 246.84L27.85 246.84M27.35 247.21L31.11 247.21M27.35 246.84L27.35 247.21M26.85 246.12L29.75 246.12M26.85 247.02L27.35 247.02M26.85 246.12L26.85 247.02M25.95 244.54L27.24 244.54M25.95 246.57L26.85 246.57M25.95 244.54L25.95 246.57M22.51 239.25L23.01 239.25M22.51 245.56L25.95 245.56M22.51 239.25L22.51 245.56M20.50 227.13L22.53 227.13M20.50 242.40L22.51 242.40M20.50 227.13L20.50 242.40M18.20 209.85L21.50 209.85M18.20 234.77L20.50 234.77M18.20 209.85L18.20 234.77M14.60 188.78L21.29 188.78M14.60 222.31L18.20 222.31M14.60 188.78L14.60 222.31M12.40 158.58L18.20 158.58M12.40 205.54L14.60 205.54M12.40 158.58L12.40 205.54M6.90 97.08L14.20 97.08M6.90 182.06L12.40 182.06M6.90 97.08L6.90 182.06" stroke="#111" stroke-width="0.5" fill="none"/>
<path d="M75.2 68.2V58.4H102.5V68.2M47.9 68.2V56.9H88.8V58.4M157.1 68.2V56.3H184.4V68.2M129.8 68.2V54.3H170.7V56.3M68.3 56.9V41.2H150.2V54.3" stroke="#333" stroke-width="0.6" fill="none"/>
<rect x="34.2" y="68.2" width="81.90" height="4.6" fill="#33c1f0"/>
<rect x="116.10" y="68.2" width="81.90" height="4.6" fill="#ee7d31"/>
<rect x="203.4" y="75.2" width="11.5" height="9.5" fill="#33c1f0"/>
<rect x="203.4" y="84.7" width="11.5" height="9.7" fill="#ee7d31"/>
<text x="217.5" y="82.6" font-size="7.7" fill="#111" stroke="#111" stroke-width="0.15">Acetone</text>
<text x="217" y="92.9" font-size="7.7" fill="#111" stroke="#111" stroke-width="0.15">Cyproflanilide</text>
<rect x="203.8" y="176.4" width="5.3" height="71.7" fill="url(#cb)"/>
<text x="211.4" y="180.3" stroke="#111" stroke-width="0.12" font-size="9.5" fill="#111">2</text>
<text x="211.4" y="196.2" stroke="#111" stroke-width="0.12" font-size="9.5" fill="#111">1</text>
<text x="211.4" y="212.1" stroke="#111" stroke-width="0.12" font-size="9.5" fill="#111">0</text>
<text x="209.9" y="231.5" stroke="#111" stroke-width="0.12" font-size="9.5" fill="#111">-1</text>
<text x="209.9" y="249.4" stroke="#111" stroke-width="0.12" font-size="9.5" fill="#111">-2</text>
<text x="19.1" y="12.9" font-size="11.6" fill="#111">(a)</text>
<text x="242.9" y="12.9" font-size="11.6" fill="#111">(b)</text>
<text transform="translate(43.4,253.2) rotate(44)" font-size="7.6" fill="#111" stroke="#111" stroke-width="0.12">Acetone-1</text>
<text transform="translate(71.4,253.2) rotate(44)" font-size="7.6" fill="#111" stroke="#111" stroke-width="0.12">Acetone-2</text>
<text transform="translate(98.7,253.2) rotate(44)" font-size="7.6" fill="#111" stroke="#111" stroke-width="0.12">Acetone-3</text>
<text transform="translate(127.0,254.3) rotate(44)" font-size="7.6" fill="#111" stroke="#111" stroke-width="0.12">Cyproflanilide(LD<tspan font-size="5" dy="1.2">30</tspan><tspan dy="-1.2">)-1</tspan></text>
<text transform="translate(154.7,254.3) rotate(44)" font-size="7.6" fill="#111" stroke="#111" stroke-width="0.12">Cyproflanilide(LD<tspan font-size="5" dy="1.2">30</tspan><tspan dy="-1.2">)-2</tspan></text>
<text transform="translate(182.9,254.3) rotate(44)" font-size="7.6" fill="#111" stroke="#111" stroke-width="0.12">Cyproflanilide(LD<tspan font-size="5" dy="1.2">30</tspan><tspan dy="-1.2">)-3</tspan></text>
<rect x="341.50" y="26.70" width="3.20" height="2.9" fill="#0cbc66" stroke="#153" stroke-width="0.4"/>
<rect x="328.70" y="29.90" width="16.00" height="2.9" fill="#f53535" stroke="#711" stroke-width="0.4"/>
<path d="M344.7 29.60h2.3" stroke="#111" stroke-width="0.9"/>
<text transform="translate(348,31.85) scale(0.813,1)" font-size="6" fill="#111" stroke="#111" stroke-width="0.1">oxidoreductase activity, acting on paired donors, with incorporation or reduction of molecular oxygen</text>
<rect x="339.90" y="36.32" width="4.80" height="2.9" fill="#0cbc66" stroke="#153" stroke-width="0.4"/>
<rect x="311.10" y="39.52" width="33.60" height="2.9" fill="#f53535" stroke="#711" stroke-width="0.4"/>
<path d="M344.7 39.22h2.3" stroke="#111" stroke-width="0.9"/>
<text transform="translate(348,41.47) scale(0.813,1)" font-size="6" fill="#111" stroke="#111" stroke-width="0.1">endopeptidase activity</text>
<rect x="338.30" y="45.94" width="6.40" height="2.9" fill="#0cbc66" stroke="#153" stroke-width="0.4"/>
<rect x="295.10" y="49.14" width="49.60" height="2.9" fill="#f53535" stroke="#711" stroke-width="0.4"/>
<path d="M344.7 48.84h2.3" stroke="#111" stroke-width="0.9"/>
<text transform="translate(348,51.09) scale(0.813,1)" font-size="6" fill="#111" stroke="#111" stroke-width="0.1">peptidase activity</text>
<rect x="343.10" y="55.56" width="1.60" height="2.9" fill="#0cbc66" stroke="#153" stroke-width="0.4"/>
<rect x="314.30" y="58.76" width="30.40" height="2.9" fill="#f53535" stroke="#711" stroke-width="0.4"/>
<path d="M344.7 58.46h2.3" stroke="#111" stroke-width="0.9"/>
<text transform="translate(348,60.71) scale(0.813,1)" font-size="6" fill="#111" stroke="#111" stroke-width="0.1">serine-type endopeptidase activity</text>
<rect x="338.30" y="65.18" width="6.40" height="2.9" fill="#0cbc66" stroke="#153" stroke-width="0.4"/>
<rect x="295.10" y="68.38" width="49.60" height="2.9" fill="#f53535" stroke="#711" stroke-width="0.4"/>
<path d="M344.7 68.08h2.3" stroke="#111" stroke-width="0.9"/>
<text transform="translate(348,70.33) scale(0.813,1)" font-size="6" fill="#111" stroke="#111" stroke-width="0.1">peptidase activity, acting on L-amino acid peptides</text>
<rect x="341.50" y="74.80" width="3.20" height="2.9" fill="#0cbc66" stroke="#153" stroke-width="0.4"/>
<rect x="312.70" y="78.00" width="32.00" height="2.9" fill="#f53535" stroke="#711" stroke-width="0.4"/>
<path d="M344.7 77.70h2.3" stroke="#111" stroke-width="0.9"/>
<text transform="translate(348,79.95) scale(0.813,1)" font-size="6" fill="#111" stroke="#111" stroke-width="0.1">serine hydrolase activity</text>
<rect x="341.50" y="84.42" width="3.20" height="2.9" fill="#0cbc66" stroke="#153" stroke-width="0.4"/>
<rect x="312.70" y="87.62" width="32.00" height="2.9" fill="#f53535" stroke="#711" stroke-width="0.4"/>
<path d="M344.7 87.32h2.3" stroke="#111" stroke-width="0.9"/>
<text transform="translate(348,89.57) scale(0.813,1)" font-size="6" fill="#111" stroke="#111" stroke-width="0.1">serine-type peptidase activity</text>
<rect x="343.10" y="94.04" width="1.60" height="2.9" fill="#0cbc66" stroke="#153" stroke-width="0.4"/>
<rect x="323.90" y="97.24" width="20.80" height="2.9" fill="#f53535" stroke="#711" stroke-width="0.4"/>
<path d="M344.7 96.94h2.3" stroke="#111" stroke-width="0.9"/>
<text transform="translate(348,99.19) scale(0.813,1)" font-size="6" fill="#111" stroke="#111" stroke-width="0.1">chitin binding</text>
<rect x="338.30" y="103.66" width="6.40" height="2.9" fill="#0cbc66" stroke="#153" stroke-width="0.4"/>
<rect x="283.90" y="106.86" width="60.80" height="2.9" fill="#f53535" stroke="#711" stroke-width="0.4"/>
<path d="M344.7 106.56h2.3" stroke="#111" stroke-width="0.9"/>
<text transform="translate(348,108.81) scale(0.813,1)" font-size="6" fill="#111" stroke="#111" stroke-width="0.1">structural molecule activity</text>
<rect x="338.30" y="113.28" width="6.40" height="2.9" fill="#0cbc66" stroke="#153" stroke-width="0.4"/>
<rect x="288.70" y="116.48" width="56.00" height="2.9" fill="#f53535" stroke="#711" stroke-width="0.4"/>
<path d="M344.7 116.18h2.3" stroke="#111" stroke-width="0.9"/>
<text transform="translate(348,118.43) scale(0.813,1)" font-size="6" fill="#111" stroke="#111" stroke-width="0.1">structural constituent of cuticle</text>
<rect x="336.70" y="122.90" width="8.00" height="2.9" fill="#0cbc66" stroke="#153" stroke-width="0.4"/>
<path d="M344.7 125.80h2.3" stroke="#111" stroke-width="0.9"/>
<text transform="translate(348,128.05) scale(0.813,1)" font-size="6" fill="#111" stroke="#111" stroke-width="0.1">endomembrane system</text>
<rect x="339.90" y="132.52" width="4.80" height="2.9" fill="#0cbc66" stroke="#153" stroke-width="0.4"/>
<path d="M344.7 135.42h2.3" stroke="#111" stroke-width="0.9"/>
<text transform="translate(348,137.67) scale(0.813,1)" font-size="6" fill="#111" stroke="#111" stroke-width="0.1">envelope</text>
<rect x="339.90" y="142.14" width="4.80" height="2.9" fill="#0cbc66" stroke="#153" stroke-width="0.4"/>
<path d="M344.7 145.04h2.3" stroke="#111" stroke-width="0.9"/>
<text transform="translate(348,147.29) scale(0.813,1)" font-size="6" fill="#111" stroke="#111" stroke-width="0.1">organelle envelope</text>
<rect x="341.50" y="151.76" width="3.20" height="2.9" fill="#0cbc66" stroke="#153" stroke-width="0.4"/>
<path d="M344.7 154.66h2.3" stroke="#111" stroke-width="0.9"/>
<text transform="translate(348,156.91) scale(0.813,1)" font-size="6" fill="#111" stroke="#111" stroke-width="0.1">endoplasmic reticulum part</text>
<rect x="341.50" y="164.58" width="3.20" height="2.9" fill="#f53535" stroke="#711" stroke-width="0.4"/>
<path d="M344.7 164.28h2.3" stroke="#111" stroke-width="0.9"/>
<text transform="translate(348,166.53) scale(0.813,1)" font-size="6" fill="#111" stroke="#111" stroke-width="0.1">extracellular region part</text>
<rect x="341.50" y="171.00" width="3.20" height="2.9" fill="#0cbc66" stroke="#153" stroke-width="0.4"/>
<path d="M344.7 173.90h2.3" stroke="#111" stroke-width="0.9"/>
<text transform="translate(348,176.15) scale(0.813,1)" font-size="6" fill="#111" stroke="#111" stroke-width="0.1">nuclear outer membrane-endoplasmic reticulum membrane network</text>
<rect x="341.50" y="180.62" width="3.20" height="2.9" fill="#0cbc66" stroke="#153" stroke-width="0.4"/>
<path d="M344.7 183.52h2.3" stroke="#111" stroke-width="0.9"/>
<text transform="translate(348,185.77) scale(0.813,1)" font-size="6" fill="#111" stroke="#111" stroke-width="0.1">endoplasmic reticulum subcompartment</text>
<rect x="341.50" y="190.24" width="3.20" height="2.9" fill="#0cbc66" stroke="#153" stroke-width="0.4"/>
<path d="M344.7 193.14h2.3" stroke="#111" stroke-width="0.9"/>
<text transform="translate(348,195.39) scale(0.813,1)" font-size="6" fill="#111" stroke="#111" stroke-width="0.1">endoplasmic reticulum membrane</text>
<rect x="339.90" y="199.86" width="4.80" height="2.9" fill="#0cbc66" stroke="#153" stroke-width="0.4"/>
<path d="M344.7 202.76h2.3" stroke="#111" stroke-width="0.9"/>
<text transform="translate(348,205.01) scale(0.813,1)" font-size="6" fill="#111" stroke="#111" stroke-width="0.1">chromosome</text>
<rect x="341.50" y="209.48" width="3.20" height="2.9" fill="#0cbc66" stroke="#153" stroke-width="0.4"/>
<rect x="312.70" y="212.68" width="32.00" height="2.9" fill="#f53535" stroke="#711" stroke-width="0.4"/>
<path d="M344.7 212.38h2.3" stroke="#111" stroke-width="0.9"/>
<text transform="translate(348,214.63) scale(0.813,1)" font-size="6" fill="#111" stroke="#111" stroke-width="0.1">extracellular region</text>
<rect x="315.90" y="219.10" width="28.80" height="2.9" fill="#0cbc66" stroke="#153" stroke-width="0.4"/>
<rect x="322.30" y="222.30" width="22.40" height="2.9" fill="#f53535" stroke="#711" stroke-width="0.4"/>
<path d="M344.7 222.00h2.3" stroke="#111" stroke-width="0.9"/>
<text transform="translate(348,224.25) scale(0.813,1)" font-size="6" fill="#111" stroke="#111" stroke-width="0.1">oxidation-reduction process</text>
<rect x="317.50" y="228.72" width="27.20" height="2.9" fill="#0cbc66" stroke="#153" stroke-width="0.4"/>
<rect x="338.30" y="231.92" width="6.40" height="2.9" fill="#f53535" stroke="#711" stroke-width="0.4"/>
<path d="M344.7 231.62h2.3" stroke="#111" stroke-width="0.9"/>
<text transform="translate(348,233.87) scale(0.813,1)" font-size="6" fill="#111" stroke="#111" stroke-width="0.1">DNA metabolic process</text>
<rect x="336.70" y="238.34" width="8.00" height="2.9" fill="#0cbc66" stroke="#153" stroke-width="0.4"/>
<rect x="298.30" y="241.54" width="46.40" height="2.9" fill="#f53535" stroke="#711" stroke-width="0.4"/>
<path d="M344.7 241.24h2.3" stroke="#111" stroke-width="0.9"/>
<text transform="translate(348,243.49) scale(0.813,1)" font-size="6" fill="#111" stroke="#111" stroke-width="0.1">proteolysis</text>
<rect x="336.70" y="247.96" width="8.00" height="2.9" fill="#0cbc66" stroke="#153" stroke-width="0.4"/>
<rect x="319.10" y="251.16" width="25.60" height="2.9" fill="#f53535" stroke="#711" stroke-width="0.4"/>
<path d="M344.7 250.86h2.3" stroke="#111" stroke-width="0.9"/>
<text transform="translate(348,253.11) scale(0.813,1)" font-size="6" fill="#111" stroke="#111" stroke-width="0.1">carbohydrate derivative metabolic process</text>
<rect x="339.90" y="257.58" width="4.80" height="2.9" fill="#0cbc66" stroke="#153" stroke-width="0.4"/>
<rect x="323.90" y="260.78" width="20.80" height="2.9" fill="#f53535" stroke="#711" stroke-width="0.4"/>
<path d="M344.7 260.48h2.3" stroke="#111" stroke-width="0.9"/>
<text transform="translate(348,262.73) scale(0.813,1)" font-size="6" fill="#111" stroke="#111" stroke-width="0.1">drug metabolic process</text>
<rect x="343.10" y="267.20" width="1.60" height="2.9" fill="#0cbc66" stroke="#153" stroke-width="0.4"/>
<rect x="323.90" y="270.40" width="20.80" height="2.9" fill="#f53535" stroke="#711" stroke-width="0.4"/>
<path d="M344.7 270.10h2.3" stroke="#111" stroke-width="0.9"/>
<text transform="translate(348,272.35) scale(0.813,1)" font-size="6" fill="#111" stroke="#111" stroke-width="0.1">aminoglycan metabolic process</text>
<rect x="343.10" y="276.82" width="1.60" height="2.9" fill="#0cbc66" stroke="#153" stroke-width="0.4"/>
<rect x="323.90" y="280.02" width="20.80" height="2.9" fill="#f53535" stroke="#711" stroke-width="0.4"/>
<path d="M344.7 279.72h2.3" stroke="#111" stroke-width="0.9"/>
<text transform="translate(348,281.97) scale(0.813,1)" font-size="6" fill="#111" stroke="#111" stroke-width="0.1">glucosamine-containing compound metabolic process</text>
<rect x="343.10" y="286.44" width="1.60" height="2.9" fill="#0cbc66" stroke="#153" stroke-width="0.4"/>
<rect x="323.90" y="289.64" width="20.80" height="2.9" fill="#f53535" stroke="#711" stroke-width="0.4"/>
<path d="M344.7 289.34h2.3" stroke="#111" stroke-width="0.9"/>
<text transform="translate(348,291.59) scale(0.813,1)" font-size="6" fill="#111" stroke="#111" stroke-width="0.1">amino sugar metabolic process</text>
<rect x="343.10" y="296.06" width="1.60" height="2.9" fill="#0cbc66" stroke="#153" stroke-width="0.4"/>
<rect x="323.90" y="299.26" width="20.80" height="2.9" fill="#f53535" stroke="#711" stroke-width="0.4"/>
<path d="M344.7 298.96h2.3" stroke="#111" stroke-width="0.9"/>
<text transform="translate(348,301.21) scale(0.813,1)" font-size="6" fill="#111" stroke="#111" stroke-width="0.1">chitin metabolic process</text>
<rect x="323.90" y="305.68" width="20.80" height="2.9" fill="#0cbc66" stroke="#153" stroke-width="0.4"/>
<path d="M344.7 308.58h2.3" stroke="#111" stroke-width="0.9"/>
<text transform="translate(348,310.83) scale(0.813,1)" font-size="6" fill="#111" stroke="#111" stroke-width="0.1">DNA replication</text>
<path d="M280.2 24.8H345.15" stroke="#000" stroke-width="1.05"/>
<path d="M344.7 24.3V313.6" stroke="#000" stroke-width="0.9"/>
<path d="M280.6 24.8V27.5" stroke="#000" stroke-width="0.9"/>
<text transform="translate(280.6,23.1) scale(0.84,1)" text-anchor="middle" font-size="5.5" fill="#111" stroke="#111" stroke-width="0.22">40</text>
<path d="M296.6 24.8V27.5" stroke="#000" stroke-width="0.9"/>
<text transform="translate(296.6,23.1) scale(0.84,1)" text-anchor="middle" font-size="5.5" fill="#111" stroke="#111" stroke-width="0.22">30</text>
<path d="M312.6 24.8V27.5" stroke="#000" stroke-width="0.9"/>
<text transform="translate(312.6,23.1) scale(0.84,1)" text-anchor="middle" font-size="5.5" fill="#111" stroke="#111" stroke-width="0.22">20</text>
<path d="M328.6 24.8V27.5" stroke="#000" stroke-width="0.9"/>
<text transform="translate(328.6,23.1) scale(0.84,1)" text-anchor="middle" font-size="5.5" fill="#111" stroke="#111" stroke-width="0.22">10</text>
<path d="M344.6 24.8V27.5" stroke="#000" stroke-width="0.9"/>
<text transform="translate(344.6,23.1) scale(0.84,1)" text-anchor="middle" font-size="5.5" fill="#111" stroke="#111" stroke-width="0.22">0</text>
<text transform="translate(289.1,16) scale(0.81,1)" font-size="8.1" font-weight="bold" fill="#111" stroke="#111" stroke-width="0.15">Number of genes</text>
<rect x="281.4" y="33.6" width="6.4" height="1.5" fill="#d03030" stroke="#701010" stroke-width="0.5"/>
<rect x="281.4" y="37.2" width="6.4" height="1.6" fill="#109858" stroke="#0a4a2a" stroke-width="0.5"/>
<text x="291.1" y="35.3" font-size="3.1" font-weight="bold" fill="#222" font-family="'Liberation Sans', sans-serif">UP</text>
<text x="291.1" y="39.3" font-size="3.1" font-weight="bold" fill="#222" font-family="'Liberation Sans', sans-serif">DOWN</text>
<path d="M277 30.3H274.1V122.3H277" stroke="#333" stroke-width="0.75" fill="none"/>
<path d="M277.2 129.8H274.7V221.4H277.2" stroke="#111" stroke-width="1.2" fill="none"/>
<path d="M277.2 225.8H274.7V310.2H277.2" stroke="#111" stroke-width="1.2" fill="none"/>
<text transform="translate(273.3,69.6) scale(0.8,1) rotate(-90)" text-anchor="middle" font-size="6.1" fill="#444">MF</text>
<text transform="translate(272.7,183.4) scale(0.8,1) rotate(-90)" text-anchor="middle" font-size="6.1" fill="#444">CC</text>
<text transform="translate(272.8,274.2) scale(0.8,1) rotate(-90)" text-anchor="middle" font-size="6.1" fill="#444">BP</text>
</svg>
</body></html>
